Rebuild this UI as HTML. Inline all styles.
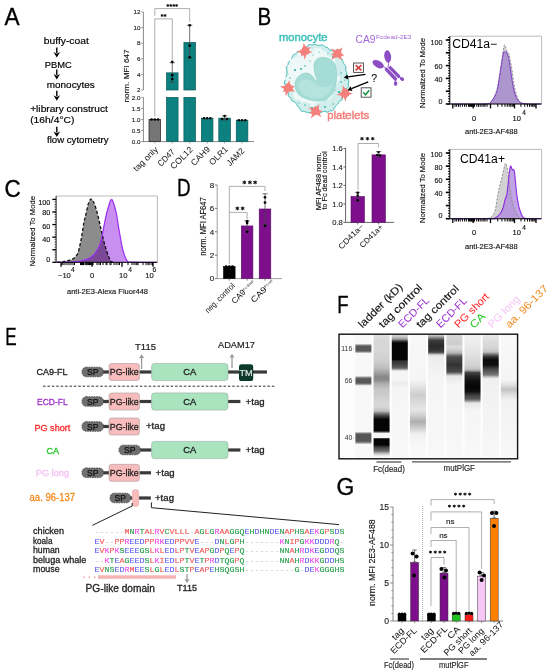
<!DOCTYPE html>
<html><head><meta charset="utf-8"><style>
html,body{margin:0;padding:0;background:#fff;width:550px;height:672px;overflow:hidden}
svg{display:block}
</style></head><body>
<svg width="550" height="672" viewBox="0 0 550 672" font-family='"Liberation Sans", Arial, sans-serif'>
<rect width="550" height="672" fill="#fff"/>
<text x="4.40" y="24.80" font-size="23.5" stroke="#000" stroke-width="0.35" textLength="15.1" lengthAdjust="spacingAndGlyphs">A</text>
<text x="257.50" y="24.80" font-size="23.5" stroke="#000" stroke-width="0.35" textLength="13.7" lengthAdjust="spacingAndGlyphs">B</text>
<text x="4.40" y="196.70" font-size="23.5" stroke="#000" stroke-width="0.35" textLength="16.2" lengthAdjust="spacingAndGlyphs">C</text>
<text x="177.10" y="195.90" font-size="23.5" stroke="#000" stroke-width="0.35" textLength="13.6" lengthAdjust="spacingAndGlyphs">D</text>
<text x="5.30" y="345.20" font-size="23.5" stroke="#000" stroke-width="0.35" textLength="11.4" lengthAdjust="spacingAndGlyphs">E</text>
<text x="337.30" y="312.80" font-size="23.5" stroke="#000" stroke-width="0.35" textLength="11.3" lengthAdjust="spacingAndGlyphs">F</text>
<text x="336.40" y="494.90" font-size="23.5" stroke="#000" stroke-width="0.35" textLength="17.8" lengthAdjust="spacingAndGlyphs">G</text>
<text x="43.80" y="44.40" font-size="9.8" stroke="#000" stroke-width="0.18" textLength="45" lengthAdjust="spacingAndGlyphs">buffy-coat</text>
<text x="44.80" y="67.60" font-size="9.8" stroke="#000" stroke-width="0.18" textLength="27" lengthAdjust="spacingAndGlyphs">PBMC</text>
<text x="46.80" y="88.00" font-size="9.8" stroke="#000" stroke-width="0.18" textLength="48" lengthAdjust="spacingAndGlyphs">monocytes</text>
<text x="30.20" y="111.60" font-size="9.8" stroke="#000" stroke-width="0.18" textLength="77.6" lengthAdjust="spacingAndGlyphs">+library construct</text>
<text x="30.20" y="122.80" font-size="9.8" stroke="#000" stroke-width="0.18" textLength="44.2" lengthAdjust="spacingAndGlyphs">(16h/4°C)</text>
<text x="47.00" y="143.00" font-size="9.8" stroke="#000" stroke-width="0.18" textLength="61.5" lengthAdjust="spacingAndGlyphs">flow cytometry</text>
<line x1="56.80" y1="47.40" x2="56.80" y2="53.00" stroke="#000" stroke-width="1.4"/>
<path d="M53.50,52.00 L56.80,53.80 L60.10,52.00 L56.80,57.50 Z" fill="#000"/>
<line x1="56.80" y1="69.50" x2="56.80" y2="75.00" stroke="#000" stroke-width="1.4"/>
<path d="M53.50,74.00 L56.80,75.80 L60.10,74.00 L56.80,79.50 Z" fill="#000"/>
<line x1="56.80" y1="90.80" x2="56.80" y2="96.30" stroke="#000" stroke-width="1.4"/>
<path d="M53.50,95.30 L56.80,97.10 L60.10,95.30 L56.80,100.80 Z" fill="#000"/>
<line x1="56.80" y1="126.80" x2="56.80" y2="132.50" stroke="#000" stroke-width="1.4"/>
<path d="M53.50,131.50 L56.80,133.30 L60.10,131.50 L56.80,137.00 Z" fill="#000"/>
<line x1="143.40" y1="12.00" x2="143.40" y2="90.00" stroke="#8a8a8a" stroke-width="1"/>
<line x1="143.40" y1="97.40" x2="143.40" y2="142.10" stroke="#8a8a8a" stroke-width="1"/>
<line x1="142.90" y1="141.60" x2="254.00" y2="141.60" stroke="#8a8a8a" stroke-width="1"/>
<line x1="141.20" y1="90.00" x2="143.40" y2="90.00" stroke="#8a8a8a" stroke-width="0.9"/>
<text x="140.40" y="92.10" font-size="6.2" stroke="#222" stroke-width="0.14" fill="#222" text-anchor="end">2</text>
<line x1="141.20" y1="74.40" x2="143.40" y2="74.40" stroke="#8a8a8a" stroke-width="0.9"/>
<text x="140.40" y="76.50" font-size="6.2" stroke="#222" stroke-width="0.14" fill="#222" text-anchor="end">4</text>
<line x1="141.20" y1="58.80" x2="143.40" y2="58.80" stroke="#8a8a8a" stroke-width="0.9"/>
<text x="140.40" y="60.90" font-size="6.2" stroke="#222" stroke-width="0.14" fill="#222" text-anchor="end">6</text>
<line x1="141.20" y1="43.20" x2="143.40" y2="43.20" stroke="#8a8a8a" stroke-width="0.9"/>
<text x="140.40" y="45.30" font-size="6.2" stroke="#222" stroke-width="0.14" fill="#222" text-anchor="end">8</text>
<line x1="141.20" y1="27.60" x2="143.40" y2="27.60" stroke="#8a8a8a" stroke-width="0.9"/>
<text x="140.40" y="29.70" font-size="6.2" stroke="#222" stroke-width="0.14" fill="#222" text-anchor="end">10</text>
<line x1="141.20" y1="12.00" x2="143.40" y2="12.00" stroke="#8a8a8a" stroke-width="0.9"/>
<text x="140.40" y="14.10" font-size="6.2" stroke="#222" stroke-width="0.14" fill="#222" text-anchor="end">12</text>
<line x1="141.20" y1="141.60" x2="143.40" y2="141.60" stroke="#8a8a8a" stroke-width="0.9"/>
<text x="140.40" y="143.70" font-size="6.2" stroke="#222" stroke-width="0.14" fill="#222" text-anchor="end">0.0</text>
<line x1="141.20" y1="130.55" x2="143.40" y2="130.55" stroke="#8a8a8a" stroke-width="0.9"/>
<text x="140.40" y="132.65" font-size="6.2" stroke="#222" stroke-width="0.14" fill="#222" text-anchor="end">0.5</text>
<line x1="141.20" y1="119.50" x2="143.40" y2="119.50" stroke="#8a8a8a" stroke-width="0.9"/>
<text x="140.40" y="121.60" font-size="6.2" stroke="#222" stroke-width="0.14" fill="#222" text-anchor="end">1.0</text>
<line x1="141.20" y1="108.45" x2="143.40" y2="108.45" stroke="#8a8a8a" stroke-width="0.9"/>
<text x="140.40" y="110.55" font-size="6.2" stroke="#222" stroke-width="0.14" fill="#222" text-anchor="end">1.5</text>
<line x1="141.20" y1="97.40" x2="143.40" y2="97.40" stroke="#8a8a8a" stroke-width="0.9"/>
<text x="140.40" y="99.50" font-size="6.2" stroke="#222" stroke-width="0.14" fill="#222" text-anchor="end">2.0</text>
<text x="129.00" y="75.95" font-size="8.0" stroke="#111" stroke-width="0.14" fill="#111" text-anchor="middle" textLength="53" lengthAdjust="spacingAndGlyphs" transform="rotate(-90 129.00 75.95)">norm. MFI 647</text>
<rect x="149.00" y="119.50" width="11.60" height="22.10" fill="#757575" stroke="#222" stroke-width="0.7"/>
<line x1="154.80" y1="141.60" x2="154.80" y2="143.40" stroke="#8a8a8a" stroke-width="0.9"/>
<rect x="166.45" y="72.84" width="11.60" height="17.16" fill="#0d8080" stroke="#0a5a5a" stroke-width="0.7"/>
<rect x="166.45" y="97.40" width="11.60" height="44.20" fill="#0d8080" stroke="#0a5a5a" stroke-width="0.7"/>
<line x1="172.25" y1="141.60" x2="172.25" y2="143.40" stroke="#8a8a8a" stroke-width="0.9"/>
<rect x="183.90" y="42.42" width="11.60" height="47.58" fill="#0d8080" stroke="#0a5a5a" stroke-width="0.7"/>
<rect x="183.90" y="97.40" width="11.60" height="44.20" fill="#0d8080" stroke="#0a5a5a" stroke-width="0.7"/>
<line x1="189.70" y1="141.60" x2="189.70" y2="143.40" stroke="#8a8a8a" stroke-width="0.9"/>
<rect x="201.35" y="118.17" width="11.60" height="23.43" fill="#0d8080" stroke="#0a5a5a" stroke-width="0.7"/>
<line x1="207.15" y1="141.60" x2="207.15" y2="143.40" stroke="#8a8a8a" stroke-width="0.9"/>
<rect x="218.80" y="118.17" width="11.60" height="23.43" fill="#0d8080" stroke="#0a5a5a" stroke-width="0.7"/>
<line x1="224.60" y1="141.60" x2="224.60" y2="143.40" stroke="#8a8a8a" stroke-width="0.9"/>
<rect x="236.25" y="120.16" width="11.60" height="21.44" fill="#0d8080" stroke="#0a5a5a" stroke-width="0.7"/>
<line x1="242.05" y1="141.60" x2="242.05" y2="143.40" stroke="#8a8a8a" stroke-width="0.9"/>
<line x1="172.25" y1="62.70" x2="172.25" y2="82.20" stroke="#444" stroke-width="0.75"/>
<line x1="169.65" y1="62.70" x2="174.85" y2="62.70" stroke="#444" stroke-width="0.75"/>
<line x1="169.65" y1="82.20" x2="174.85" y2="82.20" stroke="#444" stroke-width="0.75"/>
<circle cx="172.25" cy="61.92" r="1.35" fill="#000"/>
<circle cx="172.25" cy="75.18" r="1.35" fill="#000"/>
<circle cx="172.25" cy="79.08" r="1.35" fill="#000"/>
<line x1="189.70" y1="25.26" x2="189.70" y2="58.02" stroke="#444" stroke-width="0.75"/>
<line x1="187.10" y1="25.26" x2="192.30" y2="25.26" stroke="#444" stroke-width="0.75"/>
<line x1="187.10" y1="58.02" x2="192.30" y2="58.02" stroke="#444" stroke-width="0.75"/>
<circle cx="189.70" cy="25.26" r="1.35" fill="#000"/>
<circle cx="189.70" cy="45.54" r="1.35" fill="#000"/>
<circle cx="189.70" cy="57.24" r="1.35" fill="#000"/>
<circle cx="151.60" cy="119.50" r="1.35" fill="#000"/>
<circle cx="154.80" cy="119.50" r="1.35" fill="#000"/>
<circle cx="158.00" cy="119.50" r="1.35" fill="#000"/>
<circle cx="203.95" cy="118.17" r="1.2" fill="#000"/>
<circle cx="207.15" cy="118.17" r="1.2" fill="#000"/>
<circle cx="210.35" cy="118.17" r="1.2" fill="#000"/>
<line x1="224.60" y1="115.74" x2="224.60" y2="119.94" stroke="#444" stroke-width="0.75"/>
<line x1="222.00" y1="115.74" x2="227.20" y2="115.74" stroke="#444" stroke-width="0.75"/>
<line x1="222.00" y1="119.94" x2="227.20" y2="119.94" stroke="#444" stroke-width="0.75"/>
<circle cx="222.10" cy="119.06" r="1.2" fill="#000"/>
<circle cx="224.60" cy="115.96" r="1.2" fill="#000"/>
<circle cx="227.10" cy="119.06" r="1.2" fill="#000"/>
<circle cx="238.85" cy="120.16" r="1.2" fill="#000"/>
<circle cx="242.05" cy="120.16" r="1.2" fill="#000"/>
<circle cx="245.25" cy="120.16" r="1.2" fill="#000"/>
<path d="M154.80,116.50 V18.9 H172.25 V59.5" fill="none" stroke="#999" stroke-width="0.8"/>
<path d="M154.80,15.9 V8.6 H189.70 V21.8" fill="none" stroke="#999" stroke-width="0.8"/>
<text x="163.50" y="18.35" font-size="5.00" text-anchor="middle" font-family="DejaVu Sans" font-weight="bold" textLength="5.60" lengthAdjust="spacing" stroke="#000" stroke-width="0.3">**</text>
<text x="172.25" y="8.25" font-size="5.00" text-anchor="middle" font-family="DejaVu Sans" font-weight="bold" textLength="11.35" lengthAdjust="spacing" stroke="#000" stroke-width="0.3">****</text>
<text x="136.73" y="172.00" font-size="8.60" fill="#111" textLength="30.97" lengthAdjust="spacingAndGlyphs" transform="rotate(-45 136.73 172.00)">tag only</text>
<text x="161.03" y="166.95" font-size="8.60" fill="#111" textLength="20.29" lengthAdjust="spacingAndGlyphs" transform="rotate(-45 161.03 166.95)">CD47</text>
<text x="173.83" y="169.75" font-size="8.60" fill="#111" textLength="27.81" lengthAdjust="spacingAndGlyphs" transform="rotate(-45 173.83 169.75)">COL12</text>
<text x="194.33" y="166.30" font-size="8.60" fill="#111" textLength="23.22" lengthAdjust="spacingAndGlyphs" transform="rotate(-45 194.33 166.30)">CAH9</text>
<text x="212.58" y="165.80" font-size="8.60" fill="#111" textLength="22.46" lengthAdjust="spacingAndGlyphs" transform="rotate(-45 212.58 165.80)">OLR1</text>
<text x="229.98" y="166.55" font-size="8.60" fill="#111" textLength="21.13" lengthAdjust="spacingAndGlyphs" transform="rotate(-45 229.98 166.55)">JAM2</text>
<path d="M348.14,79.30 L348.67,80.22 L348.85,81.16 L348.73,82.08 L348.46,82.98 L348.20,83.88 L348.25,84.82 L348.44,85.79 L348.36,86.73 L347.89,87.57 L347.07,88.28 L346.15,88.93 L345.70,89.70 L345.41,90.53 L345.24,91.40 L345.04,92.26 L344.67,93.06 L344.34,93.87 L343.97,94.65 L343.50,95.38 L343.04,96.11 L342.67,96.89 L342.41,97.75 L342.36,98.79 L342.05,99.66 L341.42,100.27 L340.54,100.65 L339.61,100.94 L339.03,101.55 L338.66,102.37 L338.32,103.24 L337.88,104.01 L337.25,104.58 L336.55,105.05 L335.98,105.69 L335.42,106.35 L334.92,107.10 L334.44,107.94 L333.94,108.76 L333.51,109.74 L332.91,110.47 L332.10,110.82 L331.17,110.87 L330.21,110.83 L329.38,111.02 L328.68,111.56 L327.95,112.00 L327.10,112.14 L326.16,111.91 L325.18,111.43 L324.33,111.33 L323.53,111.43 L322.78,111.71 L322.04,112.10 L321.28,112.42 L320.52,112.76 L319.74,113.07 L318.93,113.12 L318.11,113.03 L317.30,112.98 L316.50,113.04 L315.68,113.60 L314.84,113.97 L314.01,113.93 L313.22,113.48 L312.48,112.78 L311.72,112.38 L310.91,112.39 L310.06,112.55 L309.19,112.69 L308.35,112.64 L307.57,112.36 L306.73,112.26 L305.93,112.02 L305.14,111.77 L304.31,111.57 L303.46,111.41 L302.53,111.43 L301.63,111.32 L300.92,110.78 L300.41,109.86 L300.03,108.77 L299.62,107.81 L298.95,107.31 L298.23,106.87 L297.59,106.32 L297.12,105.55 L296.83,104.56 L296.43,103.75 L295.92,103.08 L295.32,102.53 L294.59,102.10 L293.83,101.69 L293.04,101.28 L292.18,100.90 L291.58,100.27 L291.19,99.47 L290.89,98.61 L290.53,97.79 L289.79,97.25 L289.00,96.71 L288.43,96.01 L288.20,95.12 L288.25,94.08 L288.27,93.09 L287.94,92.27 L287.46,91.53 L286.89,90.80 L286.37,90.04 L286.05,89.19 L285.61,88.38 L285.38,87.49 L285.30,86.57 L285.25,85.65 L285.14,84.75 L284.82,83.87 L284.41,83.00 L284.35,82.07 L284.73,81.13 L285.40,80.19 L286.14,79.30 L286.29,78.43 L286.26,77.56 L286.19,76.68 L286.25,75.81 L286.54,74.97 L286.78,74.14 L286.91,73.29 L286.99,72.42 L286.96,71.52 L286.82,70.58 L286.67,69.61 L286.32,68.54 L286.31,67.58 L286.68,66.74 L287.27,66.02 L287.89,65.33 L288.14,64.47 L288.19,63.48 L288.36,62.54 L288.79,61.75 L289.51,61.16 L290.34,60.67 L290.88,59.99 L291.32,59.24 L291.66,58.39 L291.97,57.51 L292.37,56.70 L292.73,55.82 L293.24,55.09 L293.96,54.58 L294.77,54.19 L295.56,53.79 L296.21,53.24 L296.65,52.42 L297.24,51.77 L298.06,51.46 L299.06,51.47 L300.13,51.65 L300.94,51.44 L301.59,50.97 L302.16,50.34 L302.75,49.69 L303.41,49.19 L304.10,48.74 L304.76,48.20 L305.47,47.77 L306.18,47.33 L306.87,46.79 L307.56,46.19 L308.18,45.25 L308.90,44.60 L309.74,44.40 L310.64,44.61 L311.55,45.01 L312.40,45.13 L313.20,44.84 L314.00,44.52 L314.83,44.38 L315.67,44.56 L316.50,45.04 L317.31,45.18 L318.12,45.32 L318.94,45.34 L319.76,45.25 L320.60,45.16 L321.46,44.97 L322.31,44.91 L323.10,45.24 L323.82,45.86 L324.50,46.56 L325.19,47.12 L326.03,47.14 L326.86,47.21 L327.62,47.54 L328.24,48.22 L328.75,49.13 L329.33,49.79 L330.05,50.14 L330.86,50.30 L331.73,50.36 L332.60,50.48 L333.43,50.70 L334.33,50.85 L335.09,51.23 L335.77,51.75 L336.45,52.28 L337.17,52.75 L338.12,52.97 L339.03,53.26 L339.68,53.87 L340.02,54.82 L340.13,55.97 L340.27,57.03 L340.75,57.76 L341.34,58.40 L341.92,59.04 L342.37,59.80 L342.60,60.71 L342.94,61.53 L343.25,62.36 L343.57,63.18 L343.98,63.95 L344.45,64.68 L345.05,65.36 L345.71,66.03 L346.02,66.87 L345.99,67.85 L345.75,68.88 L345.54,69.87 L345.86,70.67 L346.31,71.45 L346.67,72.27 L346.78,73.14 L346.61,74.07 L346.48,74.97 L346.62,75.83 L346.90,76.68 L347.32,77.53 L347.79,78.40 Z" fill="#d2eeec" stroke="#3cbab5" stroke-width="1.0"/>
<path d="M338.30,76.30 L339.19,77.07 L339.78,77.87 L339.91,78.67 L339.62,79.43 L339.08,80.14 L338.53,80.83 L338.11,81.51 L337.85,82.22 L337.64,82.93 L337.35,83.61 L336.90,84.24 L336.33,84.80 L335.78,85.35 L335.40,85.95 L335.29,86.67 L335.38,87.49 L335.49,88.34 L335.40,89.11 L335.00,89.71 L334.29,90.12 L333.44,90.39 L332.68,90.69 L332.20,91.16 L332.03,91.88 L332.11,92.82 L332.24,93.85 L332.26,94.83 L332.08,95.66 L331.73,96.34 L331.30,96.94 L330.88,97.57 L330.50,98.25 L330.10,98.93 L329.59,99.47 L328.87,99.73 L327.95,99.65 L326.93,99.35 L325.94,99.03 L325.13,98.93 L324.55,99.21 L324.14,99.85 L323.80,100.66 L323.41,101.41 L322.88,101.89 L322.21,102.05 L321.48,102.00 L320.77,101.93 L320.11,102.02 L319.52,102.33 L318.96,102.77 L318.38,103.19 L317.76,103.46 L317.10,103.56 L316.44,103.62 L315.80,103.82 L315.18,104.31 L314.56,105.07 L313.91,105.92 L313.22,106.57 L312.50,106.77 L311.78,106.42 L311.10,105.62 L310.47,104.64 L309.87,103.78 L309.27,103.22 L308.65,102.97 L308.01,102.91 L307.36,102.84 L306.74,102.64 L306.15,102.32 L305.57,102.00 L304.95,101.83 L304.25,101.88 L303.48,102.10 L302.70,102.29 L301.98,102.25 L301.40,101.86 L300.95,101.19 L300.58,100.41 L300.15,99.79 L299.56,99.48 L298.76,99.52 L297.81,99.76 L296.84,99.97 L295.99,99.93 L295.35,99.55 L294.93,98.89 L294.62,98.10 L294.34,97.32 L294.00,96.61 L293.64,95.95 L293.34,95.24 L293.20,94.40 L293.22,93.44 L293.34,92.45 L293.36,91.57 L293.13,90.92 L292.55,90.53 L291.68,90.31 L290.71,90.12 L289.88,89.79 L289.35,89.25 L289.16,88.52 L289.18,87.70 L289.19,86.90 L289.04,86.19 L288.66,85.57 L288.13,85.00 L287.61,84.40 L287.24,83.73 L287.05,83.01 L286.97,82.26 L286.84,81.52 L286.56,80.81 L286.15,80.11 L285.73,79.39 L285.55,78.63 L285.76,77.84 L286.39,77.05 L287.30,76.30 L288.21,75.60 L288.85,74.94 L289.07,74.27 L288.90,73.58 L288.52,72.83 L288.16,72.07 L287.97,71.31 L287.96,70.57 L288.05,69.86 L288.09,69.12 L288.00,68.33 L287.82,67.50 L287.70,66.66 L287.79,65.89 L288.17,65.24 L288.79,64.71 L289.45,64.23 L289.96,63.69 L290.18,62.99 L290.12,62.12 L289.96,61.13 L289.91,60.19 L290.16,59.44 L290.77,58.97 L291.65,58.73 L292.61,58.61 L293.48,58.46 L294.18,58.19 L294.73,57.79 L295.23,57.34 L295.77,56.95 L296.38,56.64 L296.98,56.35 L297.49,55.95 L297.82,55.30 L297.97,54.35 L298.04,53.20 L298.17,52.06 L298.48,51.19 L299.05,50.71 L299.81,50.63 L300.65,50.77 L301.45,50.87 L302.13,50.73 L302.70,50.32 L303.21,49.72 L303.74,49.14 L304.35,48.76 L305.04,48.63 L305.76,48.68 L306.47,48.74 L307.15,48.68 L307.81,48.50 L308.46,48.31 L309.14,48.30 L309.85,48.62 L310.56,49.24 L311.24,50.00 L311.89,50.59 L312.50,50.77 L313.12,50.44 L313.77,49.70 L314.47,48.82 L315.20,48.08 L315.93,47.69 L316.63,47.66 L317.30,47.85 L317.97,48.07 L318.65,48.19 L319.35,48.23 L320.05,48.30 L320.71,48.57 L321.27,49.10 L321.76,49.82 L322.21,50.55 L322.72,51.09 L323.35,51.32 L324.10,51.29 L324.91,51.20 L325.65,51.29 L326.21,51.74 L326.54,52.56 L326.70,53.61 L326.82,54.66 L327.04,55.50 L327.45,56.03 L328.05,56.31 L328.75,56.48 L329.44,56.69 L330.07,57.01 L330.64,57.40 L331.25,57.77 L331.98,58.03 L332.86,58.20 L333.80,58.36 L334.62,58.65 L335.16,59.20 L335.32,60.03 L335.16,61.05 L334.88,62.12 L334.70,63.07 L334.79,63.83 L335.19,64.42 L335.77,64.93 L336.31,65.47 L336.65,66.12 L336.73,66.88 L336.63,67.69 L336.51,68.49 L336.50,69.24 L336.64,69.94 L336.85,70.62 L336.99,71.32 L336.94,72.05 L336.71,72.80 L336.46,73.54 L336.39,74.24 L336.69,74.91 L337.38,75.58 Z" fill="#edf8f7"/>
<circle cx="305.00" cy="66.00" r="0.8" fill="#27a7a3"/>
<circle cx="301.00" cy="69.00" r="0.9" fill="#27a7a3"/>
<circle cx="295.00" cy="70.00" r="1.0" fill="#27a7a3"/>
<circle cx="310.00" cy="61.00" r="0.6" fill="#27a7a3"/>
<circle cx="313.00" cy="55.00" r="0.6" fill="#27a7a3"/>
<circle cx="319.00" cy="52.00" r="0.6" fill="#27a7a3"/>
<circle cx="328.00" cy="53.00" r="0.6" fill="#27a7a3"/>
<circle cx="333.00" cy="57.00" r="0.9" fill="#27a7a3"/>
<circle cx="341.00" cy="73.00" r="0.7" fill="#27a7a3"/>
<circle cx="341.00" cy="82.00" r="0.8" fill="#27a7a3"/>
<circle cx="335.00" cy="90.00" r="0.6" fill="#27a7a3"/>
<circle cx="339.00" cy="92.00" r="1.1" fill="#27a7a3"/>
<circle cx="333.00" cy="104.00" r="0.7" fill="#27a7a3"/>
<circle cx="325.00" cy="107.00" r="0.9" fill="#27a7a3"/>
<circle cx="312.00" cy="108.00" r="1.1" fill="#27a7a3"/>
<circle cx="305.00" cy="105.00" r="0.7" fill="#27a7a3"/>
<circle cx="299.00" cy="103.00" r="0.6" fill="#27a7a3"/>
<circle cx="291.00" cy="86.00" r="0.8" fill="#27a7a3"/>
<circle cx="290.00" cy="78.00" r="0.7" fill="#27a7a3"/>
<circle cx="345.00" cy="80.00" r="0.6" fill="#27a7a3"/>
<circle cx="342.00" cy="98.00" r="0.6" fill="#27a7a3"/>
<circle cx="303.00" cy="76.00" r="0.5" fill="#27a7a3"/>
<circle cx="318.00" cy="106.00" r="0.6" fill="#27a7a3"/>
<path d="M317.5,80.5 C315.8,77 313.8,71 314,66 C314.2,61 317,57.6 322,57.4 C328,57.2 333.5,60 335.6,66 C337.2,71 337,80 335.5,86 C334,92 330,98 324,100.4 C318,102 309,100.5 302,97 C297,94 294.6,89 295,84 C295.4,78.5 299.5,74.5 304.5,73.2 C309,72.4 312.5,75.5 314.2,78.5 C315.2,80.2 316.6,81.2 317.5,80.5 Z" fill="#a6dcd6" stroke="#88cec7" stroke-width="0.6"/>
<path d="M298,86 C299,81 304,78.5 309,80 C313,81.5 315,85 320,86.5 C325,88 330,87 333,84 C331,93 325,98 318,98.5 C310,99 301,95 298,86 Z" fill="#b5e3de"/>
<path d="M309.40,51.81 L309.39,52.31 L309.29,52.81 L309.09,53.27 L308.81,53.68 L308.44,54.03 L308.02,54.30 L307.56,54.49 L307.09,54.62 L306.63,54.68 L306.17,54.70 L305.74,54.70 L305.33,54.69 L304.94,54.68 L304.54,54.69 L304.13,54.70 L303.70,54.70 L303.26,54.69 L302.79,54.63 L302.32,54.52 L301.86,54.34 L301.43,54.08 L301.05,53.75 L300.75,53.35 L300.54,52.89 L300.42,52.40 L300.40,51.90 L300.46,51.41 L300.59,50.94 L300.76,50.50 L300.97,50.10 L301.19,49.73 L301.40,49.38 L301.61,49.04 L301.80,48.69 L302.00,48.33 L302.21,47.96 L302.44,47.58 L302.72,47.21 L303.05,46.86 L303.44,46.55 L303.88,46.30 L304.35,46.15 L304.85,46.08 L305.36,46.13 L305.84,46.27 L306.28,46.50 L306.68,46.80 L307.02,47.14 L307.31,47.52 L307.55,47.90 L307.77,48.27 L307.96,48.63 L308.16,48.98 L308.36,49.32 L308.57,49.67 L308.79,50.03 L309.00,50.43 L309.19,50.86 L309.33,51.32 Z" fill="#f4807c"/>
<path d="M307.81,53.11 L312.70,52.48 L308.44,50.00 Z" fill="#f4807c"/>
<path d="M303.23,54.15 L304.69,59.65 L306.41,54.23 Z" fill="#f4807c"/>
<path d="M301.67,52.61 L300.82,56.45 L304.23,54.49 Z" fill="#f4807c"/>
<path d="M301.44,49.73 L296.39,51.96 L301.83,52.88 Z" fill="#f4807c"/>
<path d="M305.98,47.41 L303.67,42.80 L302.83,47.88 Z" fill="#f4807c"/>
<path d="M308.53,50.47 L310.81,47.13 L306.82,47.79 Z" fill="#f4807c"/>
<path d="M339.96,57.48 L339.49,57.56 L339.03,57.60 L338.60,57.60 L338.18,57.59 L337.78,57.58 L337.38,57.59 L336.98,57.59 L336.56,57.60 L336.12,57.59 L335.66,57.56 L335.19,57.47 L334.72,57.31 L334.28,57.09 L333.88,56.78 L333.55,56.40 L333.30,55.96 L333.15,55.48 L333.09,54.98 L333.13,54.49 L333.23,54.01 L333.40,53.56 L333.59,53.14 L333.81,52.76 L334.03,52.41 L334.23,52.06 L334.43,51.72 L334.63,51.37 L334.83,51.00 L335.05,50.62 L335.32,50.24 L335.63,49.88 L335.99,49.55 L336.41,49.28 L336.88,49.09 L337.37,48.99 L337.88,49.00 L338.37,49.11 L338.83,49.31 L339.24,49.58 L339.61,49.91 L339.91,50.28 L340.17,50.66 L340.39,51.04 L340.59,51.40 L340.79,51.75 L340.99,52.10 L341.20,52.44 L341.41,52.80 L341.63,53.18 L341.82,53.60 L341.98,54.05 L342.08,54.53 L342.11,55.03 L342.04,55.53 L341.88,56.01 L341.62,56.44 L341.28,56.81 L340.88,57.11 L340.43,57.33 Z" fill="#f4807c"/>
<path d="M338.04,57.43 L341.90,60.49 L340.72,55.71 Z" fill="#f4807c"/>
<path d="M334.11,54.87 L331.18,59.75 L336.27,57.20 Z" fill="#f4807c"/>
<path d="M334.12,52.67 L330.78,54.74 L334.56,55.82 Z" fill="#f4807c"/>
<path d="M336.03,50.50 L330.91,48.43 L334.04,52.98 Z" fill="#f4807c"/>
<path d="M340.86,52.14 L342.55,47.27 L338.32,50.22 Z" fill="#f4807c"/>
<path d="M340.44,56.10 L344.43,55.41 L341.17,53.01 Z" fill="#f4807c"/>
<path d="M292.43,90.31 L292.15,90.73 L291.79,91.09 L291.38,91.37 L290.93,91.57 L290.46,91.70 L289.99,91.77 L289.53,91.80 L289.10,91.80 L288.69,91.79 L288.29,91.78 L287.89,91.79 L287.49,91.80 L287.06,91.80 L286.62,91.79 L286.16,91.74 L285.68,91.64 L285.22,91.47 L284.79,91.22 L284.40,90.90 L284.09,90.51 L283.86,90.06 L283.73,89.57 L283.69,89.07 L283.74,88.58 L283.86,88.10 L284.04,87.66 L284.24,87.26 L284.46,86.88 L284.67,86.53 L284.88,86.19 L285.07,85.84 L285.27,85.48 L285.48,85.11 L285.71,84.74 L285.98,84.36 L286.31,84.00 L286.68,83.69 L287.12,83.43 L287.59,83.26 L288.09,83.19 L288.59,83.21 L289.08,83.34 L289.53,83.56 L289.93,83.85 L290.28,84.19 L290.57,84.56 L290.82,84.94 L291.04,85.32 L291.24,85.68 L291.43,86.03 L291.63,86.37 L291.84,86.72 L292.06,87.08 L292.27,87.47 L292.46,87.90 L292.61,88.36 L292.69,88.84 L292.70,89.35 L292.61,89.84 Z" fill="#f4807c"/>
<path d="M290.33,90.97 L295.18,91.81 L291.85,88.18 Z" fill="#f4807c"/>
<path d="M285.65,90.62 L285.42,96.30 L288.66,91.63 Z" fill="#f4807c"/>
<path d="M284.61,88.68 L282.66,92.09 L286.50,91.23 Z" fill="#f4807c"/>
<path d="M285.24,85.86 L279.76,86.50 L284.68,88.99 Z" fill="#f4807c"/>
<path d="M290.26,84.98 L289.42,79.90 L287.12,84.51 Z" fill="#f4807c"/>
<path d="M291.79,88.66 L294.96,86.14 L290.95,85.60 Z" fill="#f4807c"/>
<path d="M349.33,93.54 L349.40,94.03 L349.39,94.54 L349.28,95.03 L349.08,95.49 L348.79,95.90 L348.42,96.24 L348.00,96.51 L347.54,96.70 L347.07,96.82 L346.60,96.88 L346.15,96.90 L345.73,96.90 L345.32,96.89 L344.92,96.88 L344.52,96.89 L344.11,96.90 L343.68,96.90 L343.24,96.88 L342.77,96.83 L342.30,96.71 L341.84,96.53 L341.41,96.27 L341.04,95.93 L340.74,95.53 L340.53,95.07 L340.42,94.58 L340.40,94.08 L340.46,93.59 L340.59,93.12 L340.77,92.69 L340.98,92.29 L341.20,91.92 L341.41,91.57 L341.61,91.22 L341.81,90.88 L342.01,90.52 L342.22,90.15 L342.45,89.77 L342.74,89.39 L343.07,89.04 L343.46,88.73 L343.90,88.49 L344.38,88.34 L344.88,88.28 L345.38,88.33 L345.86,88.48 L346.30,88.71 L346.70,89.01 L347.04,89.36 L347.32,89.73 L347.56,90.11 L347.78,90.49 L347.97,90.85 L348.17,91.19 L348.37,91.54 L348.58,91.88 L348.80,92.25 L349.01,92.65 L349.19,93.08 Z" fill="#f4807c"/>
<path d="M348.02,95.01 L352.82,93.89 L348.33,91.85 Z" fill="#f4807c"/>
<path d="M343.57,96.50 L345.57,101.83 L346.74,96.26 Z" fill="#f4807c"/>
<path d="M341.86,95.12 L341.39,99.03 L344.59,96.74 Z" fill="#f4807c"/>
<path d="M341.34,92.28 L336.54,95.01 L342.04,95.38 Z" fill="#f4807c"/>
<path d="M345.62,89.52 L342.87,85.16 L342.54,90.31 Z" fill="#f4807c"/>
<path d="M348.47,92.31 L350.41,88.76 L346.50,89.81 Z" fill="#f4807c"/>
<path d="M319.04,114.63 L318.59,114.85 L318.12,114.99 L317.65,115.07 L317.19,115.10 L316.76,115.10 L316.34,115.09 L315.94,115.08 L315.55,115.09 L315.14,115.09 L314.72,115.10 L314.28,115.09 L313.82,115.05 L313.35,114.96 L312.88,114.80 L312.44,114.56 L312.05,114.25 L311.73,113.86 L311.49,113.42 L311.34,112.94 L311.29,112.44 L311.33,111.94 L311.44,111.46 L311.61,111.02 L311.81,110.61 L312.03,110.23 L312.24,109.88 L312.45,109.53 L312.65,109.19 L312.84,108.83 L313.05,108.47 L313.28,108.09 L313.54,107.71 L313.86,107.35 L314.23,107.02 L314.65,106.76 L315.12,106.58 L315.62,106.49 L316.12,106.51 L316.61,106.62 L317.07,106.83 L317.48,107.11 L317.84,107.45 L318.14,107.81 L318.39,108.19 L318.61,108.57 L318.81,108.93 L319.01,109.28 L319.21,109.63 L319.41,109.97 L319.63,110.33 L319.84,110.72 L320.04,111.14 L320.19,111.59 L320.29,112.08 L320.30,112.58 L320.23,113.07 L320.06,113.55 L319.79,113.98 L319.45,114.34 Z" fill="#f4807c"/>
<path d="M316.95,114.77 L321.34,117.01 L319.23,112.55 Z" fill="#f4807c"/>
<path d="M312.59,113.04 L310.69,118.41 L315.17,114.90 Z" fill="#f4807c"/>
<path d="M312.17,110.89 L309.30,113.57 L313.22,113.89 Z" fill="#f4807c"/>
<path d="M313.60,108.38 L308.18,107.37 L312.15,111.21 Z" fill="#f4807c"/>
<path d="M318.66,109.03 L319.36,103.92 L315.80,107.65 Z" fill="#f4807c"/>
<path d="M319.04,113.00 L322.81,111.53 L319.14,109.82 Z" fill="#f4807c"/>
<text x="279.00" y="40.80" font-size="10.8" stroke="#3fc1bc" stroke-width="0.45" fill="#3fc1bc" textLength="48.6" lengthAdjust="spacingAndGlyphs">monocyte</text>
<text x="327.20" y="119.20" font-size="10.8" stroke="#f4807c" stroke-width="0.45" fill="#f4807c" textLength="42" lengthAdjust="spacingAndGlyphs">platelets</text>
<text x="355.50" y="43.00" font-size="10.4" fill="#a266d6" textLength="20" lengthAdjust="spacingAndGlyphs">CA9</text>
<text x="376.00" y="38.60" font-size="5.6" fill="#a266d6" textLength="35.5" lengthAdjust="spacingAndGlyphs">Fcdead-2E3</text>
<ellipse cx="387.7" cy="56.5" rx="3.4" ry="6.2" fill="#8d4ec4" transform="rotate(-8 387.7 56.5)"/>
<ellipse cx="378.2" cy="64.2" rx="6.2" ry="3.4" fill="#8d4ec4" transform="rotate(28 378.2 64.2)"/>
<line x1="388.50" y1="62.00" x2="388.20" y2="68.00" stroke="#8d4ec4" stroke-width="0.9"/>
<line x1="383.60" y1="66.80" x2="388.00" y2="69.50" stroke="#8d4ec4" stroke-width="0.9"/>
<line x1="386.40" y1="69.40" x2="395.40" y2="79.00" stroke="#8d4ec4" stroke-width="3.4" stroke-linecap="round"/>
<line x1="390.40" y1="67.90" x2="398.70" y2="76.40" stroke="#8d4ec4" stroke-width="3.4" stroke-linecap="round"/>
<line x1="395.40" y1="79.00" x2="395.60" y2="82.00" stroke="#8d4ec4" stroke-width="0.8"/>
<line x1="398.80" y1="76.50" x2="400.80" y2="78.30" stroke="#8d4ec4" stroke-width="0.8"/>
<ellipse cx="395.6" cy="83.6" rx="1.7" ry="2.3" fill="#8d4ec4"/>
<ellipse cx="402" cy="79" rx="2.3" ry="1.7" fill="#8d4ec4" transform="rotate(30 402 79)"/>
<rect x="353.60" y="63.00" width="9.80" height="9.40" fill="#fff" stroke="#444" stroke-width="0.9"/>
<line x1="355.60" y1="65.20" x2="361.40" y2="70.40" stroke="#d23b3b" stroke-width="1.6"/>
<line x1="361.40" y1="65.20" x2="355.60" y2="70.40" stroke="#d23b3b" stroke-width="1.6"/>
<rect x="361.20" y="87.80" width="9.80" height="9.40" fill="#fff" stroke="#444" stroke-width="0.9"/>
<path d="M363.2,92.4 L365.6,94.8 L369.2,90.2" fill="none" stroke="#1f9a4a" stroke-width="1.6"/>
<text x="371.20" y="81.90" font-size="10.5" stroke="#222" stroke-width="0.14" fill="#222">?</text>
<line x1="365.50" y1="74.30" x2="347.95" y2="76.97" stroke="#000" stroke-width="1.3"/>
<path d="M343.80,77.60 L347.56,74.40 L348.34,79.54 Z" fill="#000"/>
<line x1="368.20" y1="81.90" x2="351.49" y2="88.71" stroke="#000" stroke-width="1.3"/>
<path d="M347.60,90.30 L350.51,86.31 L352.47,91.12 Z" fill="#000"/>
<path d="M484.00,104.00 C484.83,103.93 487.67,104.18 489.00,103.60 C490.33,103.02 491.00,101.93 492.00,100.50 C493.00,99.07 494.08,97.25 495.00,95.00 C495.92,92.75 496.75,90.33 497.50,87.00 C498.25,83.67 498.83,79.17 499.50,75.00 C500.17,70.83 500.92,65.83 501.50,62.00 C502.08,58.17 502.52,54.83 503.00,52.00 C503.48,49.17 503.98,45.83 504.40,45.00 C504.82,44.17 505.15,46.17 505.50,47.00 C505.85,47.83 506.08,49.00 506.50,50.00 C506.92,51.00 507.58,52.33 508.00,53.00 C508.42,53.67 508.63,52.83 509.00,54.00 C509.37,55.17 509.70,57.33 510.20,60.00 C510.70,62.67 511.37,66.00 512.00,70.00 C512.63,74.00 513.25,79.83 514.00,84.00 C514.75,88.17 515.58,92.08 516.50,95.00 C517.42,97.92 518.42,100.07 519.50,101.50 C520.58,102.93 521.58,103.18 523.00,103.60 C524.42,104.02 527.17,103.93 528.00,104.00 Z" fill="#d0d0d0"/>
<path d="M451.00,104.00 C456.83,103.98 479.50,104.07 486.00,103.90 C492.50,103.73 488.92,103.65 490.00,103.00 C491.08,102.35 491.67,101.17 492.50,100.00 C493.33,98.83 494.25,97.50 495.00,96.00 C495.75,94.50 496.50,92.58 497.00,91.00 C497.50,89.42 497.50,89.33 498.00,86.50 C498.50,83.67 499.33,78.25 500.00,74.00 C500.67,69.75 501.43,64.50 502.00,61.00 C502.57,57.50 503.03,54.58 503.40,53.00 C503.77,51.42 503.87,51.58 504.20,51.50 C504.53,51.42 505.05,52.45 505.40,52.50 C505.75,52.55 505.98,51.55 506.30,51.80 C506.62,52.05 506.93,53.05 507.30,54.00 C507.67,54.95 508.13,56.00 508.50,57.50 C508.87,59.00 509.08,60.42 509.50,63.00 C509.92,65.58 510.42,69.17 511.00,73.00 C511.58,76.83 512.17,82.00 513.00,86.00 C513.83,90.00 514.83,94.33 516.00,97.00 C517.17,99.67 518.67,100.90 520.00,102.00 C521.33,103.10 522.33,103.27 524.00,103.60 C525.67,103.93 527.17,103.93 530.00,104.00 C532.83,104.07 539.17,104.00 541.00,104.00 Z" fill="#ad95cd"/>
<path d="M484.00,104.00 C484.83,103.93 487.67,104.18 489.00,103.60 C490.33,103.02 491.00,101.93 492.00,100.50 C493.00,99.07 494.08,97.25 495.00,95.00 C495.92,92.75 496.75,90.33 497.50,87.00 C498.25,83.67 498.83,79.17 499.50,75.00 C500.17,70.83 500.92,65.83 501.50,62.00 C502.08,58.17 502.52,54.83 503.00,52.00 C503.48,49.17 503.98,45.83 504.40,45.00 C504.82,44.17 505.15,46.17 505.50,47.00 C505.85,47.83 506.08,49.00 506.50,50.00 C506.92,51.00 507.58,52.33 508.00,53.00 C508.42,53.67 508.63,52.83 509.00,54.00 C509.37,55.17 509.70,57.33 510.20,60.00 C510.70,62.67 511.37,66.00 512.00,70.00 C512.63,74.00 513.25,79.83 514.00,84.00 C514.75,88.17 515.58,92.08 516.50,95.00 C517.42,97.92 518.42,100.07 519.50,101.50 C520.58,102.93 521.58,103.18 523.00,103.60 C524.42,104.02 527.17,103.93 528.00,104.00" fill="none" stroke="#8a8a8a" stroke-width="0.9" stroke-dasharray="2.2,1.4"/>
<path d="M451.00,104.00 C456.83,103.98 479.50,104.07 486.00,103.90 C492.50,103.73 488.92,103.65 490.00,103.00 C491.08,102.35 491.67,101.17 492.50,100.00 C493.33,98.83 494.25,97.50 495.00,96.00 C495.75,94.50 496.50,92.58 497.00,91.00 C497.50,89.42 497.50,89.33 498.00,86.50 C498.50,83.67 499.33,78.25 500.00,74.00 C500.67,69.75 501.43,64.50 502.00,61.00 C502.57,57.50 503.03,54.58 503.40,53.00 C503.77,51.42 503.87,51.58 504.20,51.50 C504.53,51.42 505.05,52.45 505.40,52.50 C505.75,52.55 505.98,51.55 506.30,51.80 C506.62,52.05 506.93,53.05 507.30,54.00 C507.67,54.95 508.13,56.00 508.50,57.50 C508.87,59.00 509.08,60.42 509.50,63.00 C509.92,65.58 510.42,69.17 511.00,73.00 C511.58,76.83 512.17,82.00 513.00,86.00 C513.83,90.00 514.83,94.33 516.00,97.00 C517.17,99.67 518.67,100.90 520.00,102.00 C521.33,103.10 522.33,103.27 524.00,103.60 C525.67,103.93 527.17,103.93 530.00,104.00 C532.83,104.07 539.17,104.00 541.00,104.00" fill="none" stroke="#8040c8" stroke-width="1.0"/>
<line x1="449.80" y1="36.20" x2="541.60" y2="36.20" stroke="#aaa" stroke-width="0.8"/>
<line x1="541.60" y1="36.20" x2="541.60" y2="104.00" stroke="#aaa" stroke-width="0.8"/>
<line x1="449.80" y1="36.20" x2="449.80" y2="104.00" stroke="#000" stroke-width="1.0"/>
<line x1="445.80" y1="104.00" x2="449.80" y2="104.00" stroke="#000" stroke-width="1.6"/>
<line x1="445.80" y1="91.20" x2="449.80" y2="91.20" stroke="#000" stroke-width="1.6"/>
<line x1="445.80" y1="78.40" x2="449.80" y2="78.40" stroke="#000" stroke-width="1.6"/>
<line x1="445.80" y1="65.60" x2="449.80" y2="65.60" stroke="#000" stroke-width="1.6"/>
<line x1="445.80" y1="52.80" x2="449.80" y2="52.80" stroke="#000" stroke-width="1.6"/>
<line x1="445.80" y1="40.00" x2="449.80" y2="40.00" stroke="#000" stroke-width="1.6"/>
<line x1="448.00" y1="104.00" x2="449.80" y2="104.00" stroke="#000" stroke-width="0.9"/>
<line x1="448.00" y1="101.44" x2="449.80" y2="101.44" stroke="#000" stroke-width="0.9"/>
<line x1="448.00" y1="98.88" x2="449.80" y2="98.88" stroke="#000" stroke-width="0.9"/>
<line x1="448.00" y1="96.32" x2="449.80" y2="96.32" stroke="#000" stroke-width="0.9"/>
<line x1="448.00" y1="93.76" x2="449.80" y2="93.76" stroke="#000" stroke-width="0.9"/>
<line x1="448.00" y1="91.20" x2="449.80" y2="91.20" stroke="#000" stroke-width="0.9"/>
<line x1="448.00" y1="88.64" x2="449.80" y2="88.64" stroke="#000" stroke-width="0.9"/>
<line x1="448.00" y1="86.08" x2="449.80" y2="86.08" stroke="#000" stroke-width="0.9"/>
<line x1="448.00" y1="83.52" x2="449.80" y2="83.52" stroke="#000" stroke-width="0.9"/>
<line x1="448.00" y1="80.96" x2="449.80" y2="80.96" stroke="#000" stroke-width="0.9"/>
<line x1="448.00" y1="78.40" x2="449.80" y2="78.40" stroke="#000" stroke-width="0.9"/>
<line x1="448.00" y1="75.84" x2="449.80" y2="75.84" stroke="#000" stroke-width="0.9"/>
<line x1="448.00" y1="73.28" x2="449.80" y2="73.28" stroke="#000" stroke-width="0.9"/>
<line x1="448.00" y1="70.72" x2="449.80" y2="70.72" stroke="#000" stroke-width="0.9"/>
<line x1="448.00" y1="68.16" x2="449.80" y2="68.16" stroke="#000" stroke-width="0.9"/>
<line x1="448.00" y1="65.60" x2="449.80" y2="65.60" stroke="#000" stroke-width="0.9"/>
<line x1="448.00" y1="63.04" x2="449.80" y2="63.04" stroke="#000" stroke-width="0.9"/>
<line x1="448.00" y1="60.48" x2="449.80" y2="60.48" stroke="#000" stroke-width="0.9"/>
<line x1="448.00" y1="57.92" x2="449.80" y2="57.92" stroke="#000" stroke-width="0.9"/>
<line x1="448.00" y1="55.36" x2="449.80" y2="55.36" stroke="#000" stroke-width="0.9"/>
<line x1="448.00" y1="52.80" x2="449.80" y2="52.80" stroke="#000" stroke-width="0.9"/>
<line x1="448.00" y1="50.24" x2="449.80" y2="50.24" stroke="#000" stroke-width="0.9"/>
<line x1="448.00" y1="47.68" x2="449.80" y2="47.68" stroke="#000" stroke-width="0.9"/>
<line x1="448.00" y1="45.12" x2="449.80" y2="45.12" stroke="#000" stroke-width="0.9"/>
<line x1="448.00" y1="42.56" x2="449.80" y2="42.56" stroke="#000" stroke-width="0.9"/>
<line x1="448.00" y1="40.00" x2="449.80" y2="40.00" stroke="#000" stroke-width="0.9"/>
<line x1="448.00" y1="37.44" x2="449.80" y2="37.44" stroke="#000" stroke-width="0.9"/>
<text x="442.40" y="44.70" font-size="7.2" stroke="#111" stroke-width="0.14" fill="#111" text-anchor="end">100</text>
<text x="442.40" y="68.90" font-size="7.2" stroke="#111" stroke-width="0.14" fill="#111" text-anchor="end">60</text>
<text x="442.40" y="82.30" font-size="7.2" stroke="#111" stroke-width="0.14" fill="#111" text-anchor="end">40</text>
<text x="442.40" y="104.10" font-size="7.2" stroke="#111" stroke-width="0.14" fill="#111" text-anchor="end">0</text>
<line x1="449.80" y1="104.00" x2="541.60" y2="104.00" stroke="#000" stroke-width="1.1"/>
<line x1="452.80" y1="104.00" x2="452.80" y2="108.40" stroke="#000" stroke-width="1.3"/>
<line x1="473.20" y1="104.00" x2="473.20" y2="108.40" stroke="#000" stroke-width="1.3"/>
<line x1="490.50" y1="104.00" x2="490.50" y2="108.40" stroke="#000" stroke-width="1.3"/>
<line x1="514.50" y1="104.00" x2="514.50" y2="108.40" stroke="#000" stroke-width="1.3"/>
<line x1="536.00" y1="104.00" x2="536.00" y2="108.40" stroke="#000" stroke-width="1.3"/>
<line x1="455.00" y1="104.00" x2="455.00" y2="106.80" stroke="#000" stroke-width="1.0"/>
<line x1="456.70" y1="104.00" x2="456.70" y2="106.80" stroke="#000" stroke-width="1.0"/>
<line x1="458.50" y1="104.00" x2="458.50" y2="106.80" stroke="#000" stroke-width="1.0"/>
<line x1="460.20" y1="104.00" x2="460.20" y2="106.80" stroke="#000" stroke-width="1.0"/>
<line x1="462.40" y1="104.00" x2="462.40" y2="106.80" stroke="#000" stroke-width="1.0"/>
<line x1="464.60" y1="104.00" x2="464.60" y2="106.80" stroke="#000" stroke-width="1.0"/>
<line x1="466.30" y1="104.00" x2="466.30" y2="106.80" stroke="#000" stroke-width="1.0"/>
<line x1="468.50" y1="104.00" x2="468.50" y2="106.80" stroke="#000" stroke-width="1.0"/>
<line x1="469.25" y1="104.00" x2="469.25" y2="106.80" stroke="#000" stroke-width="1.0"/>
<line x1="470.00" y1="104.00" x2="470.00" y2="106.80" stroke="#000" stroke-width="1.0"/>
<line x1="470.75" y1="104.00" x2="470.75" y2="106.80" stroke="#000" stroke-width="1.0"/>
<line x1="471.50" y1="104.00" x2="471.50" y2="106.80" stroke="#000" stroke-width="1.0"/>
<line x1="472.25" y1="104.00" x2="472.25" y2="106.80" stroke="#000" stroke-width="1.0"/>
<line x1="473.00" y1="104.00" x2="473.00" y2="106.80" stroke="#000" stroke-width="1.0"/>
<line x1="473.75" y1="104.00" x2="473.75" y2="106.80" stroke="#000" stroke-width="1.0"/>
<line x1="474.50" y1="104.00" x2="474.50" y2="106.80" stroke="#000" stroke-width="1.0"/>
<line x1="476.80" y1="104.00" x2="476.80" y2="106.80" stroke="#000" stroke-width="1.0"/>
<line x1="478.50" y1="104.00" x2="478.50" y2="106.80" stroke="#000" stroke-width="1.0"/>
<line x1="480.20" y1="104.00" x2="480.20" y2="106.80" stroke="#000" stroke-width="1.0"/>
<line x1="482.00" y1="104.00" x2="482.00" y2="106.80" stroke="#000" stroke-width="1.0"/>
<line x1="483.80" y1="104.00" x2="483.80" y2="106.80" stroke="#000" stroke-width="1.0"/>
<line x1="485.00" y1="104.00" x2="485.00" y2="106.80" stroke="#000" stroke-width="1.0"/>
<line x1="487.00" y1="104.00" x2="487.00" y2="106.80" stroke="#000" stroke-width="1.0"/>
<line x1="497.72" y1="104.00" x2="497.72" y2="106.80" stroke="#000" stroke-width="1.0"/>
<line x1="520.97" y1="104.00" x2="520.97" y2="106.80" stroke="#000" stroke-width="1.0"/>
<line x1="501.95" y1="104.00" x2="501.95" y2="106.80" stroke="#000" stroke-width="1.0"/>
<line x1="524.76" y1="104.00" x2="524.76" y2="106.80" stroke="#000" stroke-width="1.0"/>
<line x1="504.95" y1="104.00" x2="504.95" y2="106.80" stroke="#000" stroke-width="1.0"/>
<line x1="527.44" y1="104.00" x2="527.44" y2="106.80" stroke="#000" stroke-width="1.0"/>
<line x1="507.28" y1="104.00" x2="507.28" y2="106.80" stroke="#000" stroke-width="1.0"/>
<line x1="529.53" y1="104.00" x2="529.53" y2="106.80" stroke="#000" stroke-width="1.0"/>
<line x1="509.18" y1="104.00" x2="509.18" y2="106.80" stroke="#000" stroke-width="1.0"/>
<line x1="531.23" y1="104.00" x2="531.23" y2="106.80" stroke="#000" stroke-width="1.0"/>
<line x1="510.78" y1="104.00" x2="510.78" y2="106.80" stroke="#000" stroke-width="1.0"/>
<line x1="532.67" y1="104.00" x2="532.67" y2="106.80" stroke="#000" stroke-width="1.0"/>
<line x1="512.17" y1="104.00" x2="512.17" y2="106.80" stroke="#000" stroke-width="1.0"/>
<line x1="533.92" y1="104.00" x2="533.92" y2="106.80" stroke="#000" stroke-width="1.0"/>
<line x1="513.40" y1="104.00" x2="513.40" y2="106.80" stroke="#000" stroke-width="1.0"/>
<line x1="535.02" y1="104.00" x2="535.02" y2="106.80" stroke="#000" stroke-width="1.0"/>
<text x="474.20" y="120.50" font-size="7.5" stroke="#111" stroke-width="0.14" fill="#111" text-anchor="middle">0</text>
<text x="512.60" y="120.50" font-size="7.5" stroke="#111" stroke-width="0.14" fill="#111">10</text>
<text x="522.20" y="115.20" font-size="6.5" stroke="#111" stroke-width="0.14" fill="#111">4</text>
<text x="491.30" y="134.10" font-size="7.3" stroke="#111" stroke-width="0.14" fill="#111" text-anchor="middle" textLength="52.6" lengthAdjust="spacingAndGlyphs">anti-2E3-AF488</text>
<text x="425.00" y="73.00" font-size="7.3" stroke="#111" stroke-width="0.14" fill="#111" text-anchor="middle" textLength="70" lengthAdjust="spacingAndGlyphs" transform="rotate(-90 425.00 73.00)">Normalized To Mode</text>
<text x="452.20" y="48.00" font-size="12" textLength="45" lengthAdjust="spacingAndGlyphs">CD41a−</text>
<path d="M484.00,218.70 C484.92,218.58 488.00,218.62 489.50,218.00 C491.00,217.38 492.00,216.50 493.00,215.00 C494.00,213.50 494.70,212.40 495.50,209.00 C496.30,205.60 497.05,198.60 497.80,194.60 C498.55,190.60 499.22,188.27 500.00,185.00 C500.78,181.73 501.75,178.17 502.50,175.00 C503.25,171.83 503.98,167.93 504.50,166.00 C505.02,164.07 505.22,163.40 505.60,163.40 C505.98,163.40 506.40,164.57 506.80,166.00 C507.20,167.43 507.60,169.33 508.00,172.00 C508.40,174.67 508.75,178.23 509.20,182.00 C509.65,185.77 510.07,190.77 510.70,194.60 C511.33,198.43 512.12,201.93 513.00,205.00 C513.88,208.07 514.90,210.83 516.00,213.00 C517.10,215.17 518.27,217.05 519.60,218.00 C520.93,218.95 523.27,218.58 524.00,218.70 Z" fill="#d2d2d2"/>
<path d="M451.00,218.70 C457.50,218.70 482.67,218.82 490.00,218.70 C497.33,218.58 493.33,218.78 495.00,218.00 C496.67,217.22 498.67,215.67 500.00,214.00 C501.33,212.33 502.17,210.33 503.00,208.00 C503.83,205.67 504.37,202.23 505.00,200.00 C505.63,197.77 506.30,197.10 506.80,194.60 C507.30,192.10 507.58,188.60 508.00,185.00 C508.42,181.40 508.90,176.13 509.30,173.00 C509.70,169.87 510.03,167.12 510.40,166.20 C510.77,165.28 511.18,166.87 511.50,167.50 C511.82,168.13 511.97,169.67 512.30,170.00 C512.63,170.33 513.13,169.17 513.50,169.50 C513.87,169.83 514.17,169.92 514.50,172.00 C514.83,174.08 515.12,178.23 515.50,182.00 C515.88,185.77 516.30,190.77 516.80,194.60 C517.30,198.43 517.88,202.10 518.50,205.00 C519.12,207.90 519.83,210.08 520.50,212.00 C521.17,213.92 521.82,215.47 522.50,216.50 C523.18,217.53 523.35,217.83 524.60,218.20 C525.85,218.57 527.27,218.62 530.00,218.70 C532.73,218.78 539.17,218.70 541.00,218.70 Z" fill="#b08add" fill-opacity="0.78"/>
<path d="M484.00,218.70 C484.92,218.58 488.00,218.62 489.50,218.00 C491.00,217.38 492.00,216.50 493.00,215.00 C494.00,213.50 494.70,212.40 495.50,209.00 C496.30,205.60 497.05,198.60 497.80,194.60 C498.55,190.60 499.22,188.27 500.00,185.00 C500.78,181.73 501.75,178.17 502.50,175.00 C503.25,171.83 503.98,167.93 504.50,166.00 C505.02,164.07 505.22,163.40 505.60,163.40 C505.98,163.40 506.40,164.57 506.80,166.00 C507.20,167.43 507.60,169.33 508.00,172.00 C508.40,174.67 508.75,178.23 509.20,182.00 C509.65,185.77 510.07,190.77 510.70,194.60 C511.33,198.43 512.12,201.93 513.00,205.00 C513.88,208.07 514.90,210.83 516.00,213.00 C517.10,215.17 518.27,217.05 519.60,218.00 C520.93,218.95 523.27,218.58 524.00,218.70" fill="none" stroke="#8a8a8a" stroke-width="0.9" stroke-dasharray="2.2,1.4"/>
<path d="M451.00,218.70 C457.50,218.70 482.67,218.82 490.00,218.70 C497.33,218.58 493.33,218.78 495.00,218.00 C496.67,217.22 498.67,215.67 500.00,214.00 C501.33,212.33 502.17,210.33 503.00,208.00 C503.83,205.67 504.37,202.23 505.00,200.00 C505.63,197.77 506.30,197.10 506.80,194.60 C507.30,192.10 507.58,188.60 508.00,185.00 C508.42,181.40 508.90,176.13 509.30,173.00 C509.70,169.87 510.03,167.12 510.40,166.20 C510.77,165.28 511.18,166.87 511.50,167.50 C511.82,168.13 511.97,169.67 512.30,170.00 C512.63,170.33 513.13,169.17 513.50,169.50 C513.87,169.83 514.17,169.92 514.50,172.00 C514.83,174.08 515.12,178.23 515.50,182.00 C515.88,185.77 516.30,190.77 516.80,194.60 C517.30,198.43 517.88,202.10 518.50,205.00 C519.12,207.90 519.83,210.08 520.50,212.00 C521.17,213.92 521.82,215.47 522.50,216.50 C523.18,217.53 523.35,217.83 524.60,218.20 C525.85,218.57 527.27,218.62 530.00,218.70 C532.73,218.78 539.17,218.70 541.00,218.70" fill="none" stroke="#8a2be2" stroke-width="1.1"/>
<line x1="449.80" y1="149.40" x2="541.60" y2="149.40" stroke="#aaa" stroke-width="0.8"/>
<line x1="541.60" y1="149.40" x2="541.60" y2="218.70" stroke="#aaa" stroke-width="0.8"/>
<line x1="449.80" y1="149.40" x2="449.80" y2="218.70" stroke="#000" stroke-width="1.0"/>
<line x1="445.80" y1="218.70" x2="449.80" y2="218.70" stroke="#000" stroke-width="1.6"/>
<line x1="445.80" y1="205.56" x2="449.80" y2="205.56" stroke="#000" stroke-width="1.6"/>
<line x1="445.80" y1="192.42" x2="449.80" y2="192.42" stroke="#000" stroke-width="1.6"/>
<line x1="445.80" y1="179.28" x2="449.80" y2="179.28" stroke="#000" stroke-width="1.6"/>
<line x1="445.80" y1="166.14" x2="449.80" y2="166.14" stroke="#000" stroke-width="1.6"/>
<line x1="445.80" y1="153.00" x2="449.80" y2="153.00" stroke="#000" stroke-width="1.6"/>
<line x1="448.00" y1="218.70" x2="449.80" y2="218.70" stroke="#000" stroke-width="0.9"/>
<line x1="448.00" y1="216.07" x2="449.80" y2="216.07" stroke="#000" stroke-width="0.9"/>
<line x1="448.00" y1="213.44" x2="449.80" y2="213.44" stroke="#000" stroke-width="0.9"/>
<line x1="448.00" y1="210.82" x2="449.80" y2="210.82" stroke="#000" stroke-width="0.9"/>
<line x1="448.00" y1="208.19" x2="449.80" y2="208.19" stroke="#000" stroke-width="0.9"/>
<line x1="448.00" y1="205.56" x2="449.80" y2="205.56" stroke="#000" stroke-width="0.9"/>
<line x1="448.00" y1="202.93" x2="449.80" y2="202.93" stroke="#000" stroke-width="0.9"/>
<line x1="448.00" y1="200.30" x2="449.80" y2="200.30" stroke="#000" stroke-width="0.9"/>
<line x1="448.00" y1="197.68" x2="449.80" y2="197.68" stroke="#000" stroke-width="0.9"/>
<line x1="448.00" y1="195.05" x2="449.80" y2="195.05" stroke="#000" stroke-width="0.9"/>
<line x1="448.00" y1="192.42" x2="449.80" y2="192.42" stroke="#000" stroke-width="0.9"/>
<line x1="448.00" y1="189.79" x2="449.80" y2="189.79" stroke="#000" stroke-width="0.9"/>
<line x1="448.00" y1="187.16" x2="449.80" y2="187.16" stroke="#000" stroke-width="0.9"/>
<line x1="448.00" y1="184.54" x2="449.80" y2="184.54" stroke="#000" stroke-width="0.9"/>
<line x1="448.00" y1="181.91" x2="449.80" y2="181.91" stroke="#000" stroke-width="0.9"/>
<line x1="448.00" y1="179.28" x2="449.80" y2="179.28" stroke="#000" stroke-width="0.9"/>
<line x1="448.00" y1="176.65" x2="449.80" y2="176.65" stroke="#000" stroke-width="0.9"/>
<line x1="448.00" y1="174.02" x2="449.80" y2="174.02" stroke="#000" stroke-width="0.9"/>
<line x1="448.00" y1="171.40" x2="449.80" y2="171.40" stroke="#000" stroke-width="0.9"/>
<line x1="448.00" y1="168.77" x2="449.80" y2="168.77" stroke="#000" stroke-width="0.9"/>
<line x1="448.00" y1="166.14" x2="449.80" y2="166.14" stroke="#000" stroke-width="0.9"/>
<line x1="448.00" y1="163.51" x2="449.80" y2="163.51" stroke="#000" stroke-width="0.9"/>
<line x1="448.00" y1="160.88" x2="449.80" y2="160.88" stroke="#000" stroke-width="0.9"/>
<line x1="448.00" y1="158.26" x2="449.80" y2="158.26" stroke="#000" stroke-width="0.9"/>
<line x1="448.00" y1="155.63" x2="449.80" y2="155.63" stroke="#000" stroke-width="0.9"/>
<line x1="448.00" y1="153.00" x2="449.80" y2="153.00" stroke="#000" stroke-width="0.9"/>
<line x1="448.00" y1="150.37" x2="449.80" y2="150.37" stroke="#000" stroke-width="0.9"/>
<text x="442.40" y="157.40" font-size="7.2" stroke="#111" stroke-width="0.14" fill="#111" text-anchor="end">100</text>
<text x="442.40" y="169.50" font-size="7.2" stroke="#111" stroke-width="0.14" fill="#111" text-anchor="end">80</text>
<text x="442.40" y="182.50" font-size="7.2" stroke="#111" stroke-width="0.14" fill="#111" text-anchor="end">60</text>
<text x="442.40" y="195.70" font-size="7.2" stroke="#111" stroke-width="0.14" fill="#111" text-anchor="end">40</text>
<text x="442.40" y="218.40" font-size="7.2" stroke="#111" stroke-width="0.14" fill="#111" text-anchor="end">0</text>
<line x1="449.80" y1="218.70" x2="541.60" y2="218.70" stroke="#000" stroke-width="1.1"/>
<line x1="452.80" y1="218.70" x2="452.80" y2="223.10" stroke="#000" stroke-width="1.3"/>
<line x1="473.20" y1="218.70" x2="473.20" y2="223.10" stroke="#000" stroke-width="1.3"/>
<line x1="490.50" y1="218.70" x2="490.50" y2="223.10" stroke="#000" stroke-width="1.3"/>
<line x1="514.50" y1="218.70" x2="514.50" y2="223.10" stroke="#000" stroke-width="1.3"/>
<line x1="536.00" y1="218.70" x2="536.00" y2="223.10" stroke="#000" stroke-width="1.3"/>
<line x1="455.00" y1="218.70" x2="455.00" y2="221.50" stroke="#000" stroke-width="1.0"/>
<line x1="456.70" y1="218.70" x2="456.70" y2="221.50" stroke="#000" stroke-width="1.0"/>
<line x1="458.50" y1="218.70" x2="458.50" y2="221.50" stroke="#000" stroke-width="1.0"/>
<line x1="460.20" y1="218.70" x2="460.20" y2="221.50" stroke="#000" stroke-width="1.0"/>
<line x1="462.40" y1="218.70" x2="462.40" y2="221.50" stroke="#000" stroke-width="1.0"/>
<line x1="464.60" y1="218.70" x2="464.60" y2="221.50" stroke="#000" stroke-width="1.0"/>
<line x1="466.30" y1="218.70" x2="466.30" y2="221.50" stroke="#000" stroke-width="1.0"/>
<line x1="468.50" y1="218.70" x2="468.50" y2="221.50" stroke="#000" stroke-width="1.0"/>
<line x1="469.25" y1="218.70" x2="469.25" y2="221.50" stroke="#000" stroke-width="1.0"/>
<line x1="470.00" y1="218.70" x2="470.00" y2="221.50" stroke="#000" stroke-width="1.0"/>
<line x1="470.75" y1="218.70" x2="470.75" y2="221.50" stroke="#000" stroke-width="1.0"/>
<line x1="471.50" y1="218.70" x2="471.50" y2="221.50" stroke="#000" stroke-width="1.0"/>
<line x1="472.25" y1="218.70" x2="472.25" y2="221.50" stroke="#000" stroke-width="1.0"/>
<line x1="473.00" y1="218.70" x2="473.00" y2="221.50" stroke="#000" stroke-width="1.0"/>
<line x1="473.75" y1="218.70" x2="473.75" y2="221.50" stroke="#000" stroke-width="1.0"/>
<line x1="474.50" y1="218.70" x2="474.50" y2="221.50" stroke="#000" stroke-width="1.0"/>
<line x1="476.80" y1="218.70" x2="476.80" y2="221.50" stroke="#000" stroke-width="1.0"/>
<line x1="478.50" y1="218.70" x2="478.50" y2="221.50" stroke="#000" stroke-width="1.0"/>
<line x1="480.20" y1="218.70" x2="480.20" y2="221.50" stroke="#000" stroke-width="1.0"/>
<line x1="482.00" y1="218.70" x2="482.00" y2="221.50" stroke="#000" stroke-width="1.0"/>
<line x1="483.80" y1="218.70" x2="483.80" y2="221.50" stroke="#000" stroke-width="1.0"/>
<line x1="485.00" y1="218.70" x2="485.00" y2="221.50" stroke="#000" stroke-width="1.0"/>
<line x1="487.00" y1="218.70" x2="487.00" y2="221.50" stroke="#000" stroke-width="1.0"/>
<line x1="497.72" y1="218.70" x2="497.72" y2="221.50" stroke="#000" stroke-width="1.0"/>
<line x1="520.97" y1="218.70" x2="520.97" y2="221.50" stroke="#000" stroke-width="1.0"/>
<line x1="501.95" y1="218.70" x2="501.95" y2="221.50" stroke="#000" stroke-width="1.0"/>
<line x1="524.76" y1="218.70" x2="524.76" y2="221.50" stroke="#000" stroke-width="1.0"/>
<line x1="504.95" y1="218.70" x2="504.95" y2="221.50" stroke="#000" stroke-width="1.0"/>
<line x1="527.44" y1="218.70" x2="527.44" y2="221.50" stroke="#000" stroke-width="1.0"/>
<line x1="507.28" y1="218.70" x2="507.28" y2="221.50" stroke="#000" stroke-width="1.0"/>
<line x1="529.53" y1="218.70" x2="529.53" y2="221.50" stroke="#000" stroke-width="1.0"/>
<line x1="509.18" y1="218.70" x2="509.18" y2="221.50" stroke="#000" stroke-width="1.0"/>
<line x1="531.23" y1="218.70" x2="531.23" y2="221.50" stroke="#000" stroke-width="1.0"/>
<line x1="510.78" y1="218.70" x2="510.78" y2="221.50" stroke="#000" stroke-width="1.0"/>
<line x1="532.67" y1="218.70" x2="532.67" y2="221.50" stroke="#000" stroke-width="1.0"/>
<line x1="512.17" y1="218.70" x2="512.17" y2="221.50" stroke="#000" stroke-width="1.0"/>
<line x1="533.92" y1="218.70" x2="533.92" y2="221.50" stroke="#000" stroke-width="1.0"/>
<line x1="513.40" y1="218.70" x2="513.40" y2="221.50" stroke="#000" stroke-width="1.0"/>
<line x1="535.02" y1="218.70" x2="535.02" y2="221.50" stroke="#000" stroke-width="1.0"/>
<text x="474.20" y="235.20" font-size="7.5" stroke="#111" stroke-width="0.14" fill="#111" text-anchor="middle">0</text>
<text x="512.60" y="235.20" font-size="7.5" stroke="#111" stroke-width="0.14" fill="#111">10</text>
<text x="522.20" y="229.80" font-size="6.5" stroke="#111" stroke-width="0.14" fill="#111">4</text>
<text x="491.30" y="249.20" font-size="7.3" stroke="#111" stroke-width="0.14" fill="#111" text-anchor="middle" textLength="52.6" lengthAdjust="spacingAndGlyphs">anti-2E3-AF488</text>
<text x="425.00" y="188.00" font-size="7.3" stroke="#111" stroke-width="0.14" fill="#111" text-anchor="middle" textLength="70" lengthAdjust="spacingAndGlyphs" transform="rotate(-90 425.00 188.00)">Normalized To Mode</text>
<text x="460.00" y="162.60" font-size="12" textLength="45" lengthAdjust="spacingAndGlyphs">CD41a+</text>
<line x1="345.60" y1="147.90" x2="345.60" y2="222.40" stroke="#555" stroke-width="0.9"/>
<line x1="345.60" y1="222.40" x2="394.00" y2="222.40" stroke="#555" stroke-width="0.9"/>
<line x1="343.40" y1="222.40" x2="345.60" y2="222.40" stroke="#555" stroke-width="0.9"/>
<text x="342.80" y="225.10" font-size="7.6" stroke="#222" stroke-width="0.14" fill="#222" text-anchor="end">0.8</text>
<line x1="343.40" y1="203.90" x2="345.60" y2="203.90" stroke="#555" stroke-width="0.9"/>
<text x="342.80" y="206.60" font-size="7.6" stroke="#222" stroke-width="0.14" fill="#222" text-anchor="end">1.0</text>
<line x1="343.40" y1="185.40" x2="345.60" y2="185.40" stroke="#555" stroke-width="0.9"/>
<text x="342.80" y="188.10" font-size="7.6" stroke="#222" stroke-width="0.14" fill="#222" text-anchor="end">1.2</text>
<line x1="343.40" y1="166.90" x2="345.60" y2="166.90" stroke="#555" stroke-width="0.9"/>
<text x="342.80" y="169.60" font-size="7.6" stroke="#222" stroke-width="0.14" fill="#222" text-anchor="end">1.4</text>
<line x1="343.40" y1="148.40" x2="345.60" y2="148.40" stroke="#555" stroke-width="0.9"/>
<text x="342.80" y="151.10" font-size="7.6" stroke="#222" stroke-width="0.14" fill="#222" text-anchor="end">1.6</text>
<rect x="351.00" y="196.50" width="13.40" height="25.90" fill="#7d0f8c" stroke="#5a0a66" stroke-width="0.6"/>
<line x1="357.70" y1="222.40" x2="357.70" y2="224.40" stroke="#555" stroke-width="0.9"/>
<rect x="372.00" y="154.88" width="13.40" height="67.53" fill="#7d0f8c" stroke="#5a0a66" stroke-width="0.6"/>
<line x1="378.70" y1="222.40" x2="378.70" y2="224.40" stroke="#555" stroke-width="0.9"/>
<line x1="357.70" y1="192.34" x2="357.70" y2="200.66" stroke="#444" stroke-width="0.75"/>
<line x1="355.10" y1="192.34" x2="360.30" y2="192.34" stroke="#444" stroke-width="0.75"/>
<line x1="355.10" y1="200.66" x2="360.30" y2="200.66" stroke="#444" stroke-width="0.75"/>
<circle cx="357.70" cy="192.80" r="1.25" fill="#000"/>
<circle cx="357.70" cy="195.57" r="1.25" fill="#000"/>
<circle cx="357.70" cy="200.20" r="1.25" fill="#000"/>
<line x1="378.70" y1="151.64" x2="378.70" y2="156.73" stroke="#444" stroke-width="0.75"/>
<line x1="376.10" y1="151.64" x2="381.30" y2="151.64" stroke="#444" stroke-width="0.75"/>
<line x1="376.10" y1="156.73" x2="381.30" y2="156.73" stroke="#444" stroke-width="0.75"/>
<circle cx="378.50" cy="152.10" r="1.2" fill="#000"/>
<circle cx="377.30" cy="154.88" r="1.2" fill="#000"/>
<circle cx="380.10" cy="155.34" r="1.2" fill="#000"/>
<path d="M358,190 V143.5 H378.4 V147.5" fill="none" stroke="#999" stroke-width="0.8"/>
<text x="367.45" y="142.23" font-size="6.60" text-anchor="middle" font-family="DejaVu Sans" font-weight="bold" textLength="14.20" lengthAdjust="spacing" stroke="#000" stroke-width="0.3">***</text>
<text x="321.20" y="210.30" font-size="7.5" stroke="#111" stroke-width="0.14" fill="#111" textLength="57.6" lengthAdjust="spacingAndGlyphs" transform="rotate(-90 321.20 210.30)">MFI AF488 norm.</text>
<text x="327.00" y="209.60" font-size="7.5" stroke="#111" stroke-width="0.14" fill="#111" textLength="58.2" lengthAdjust="spacingAndGlyphs" transform="rotate(-90 327.00 209.60)">to Fc dead control</text>
<text x="341.47" y="249.70" font-size="7.80" fill="#111" textLength="32.23" lengthAdjust="spacingAndGlyphs" transform="rotate(-45 341.47 249.70)">CD41a−</text>
<text x="362.82" y="248.20" font-size="7.80" fill="#111" textLength="29.12" lengthAdjust="spacingAndGlyphs" transform="rotate(-45 362.82 248.20)">CD41a+</text>
<defs><clipPath id="cg"><path d="M57.00,262.30 C57.83,262.25 60.50,262.22 62.00,262.00 C63.50,261.78 64.67,261.30 66.00,261.00 C67.33,260.70 68.75,260.62 70.00,260.20 C71.25,259.78 72.22,259.62 73.50,258.50 C74.78,257.38 76.57,256.02 77.70,253.50 C78.83,250.98 79.55,246.78 80.30,243.40 C81.05,240.02 81.58,236.77 82.20,233.20 C82.82,229.63 83.37,225.20 84.00,222.00 C84.63,218.80 85.35,216.80 86.00,214.00 C86.65,211.20 87.27,207.50 87.90,205.20 C88.53,202.90 89.27,201.22 89.80,200.20 C90.33,199.18 90.63,199.10 91.10,199.10 C91.57,199.10 91.97,199.18 92.60,200.20 C93.23,201.22 94.08,202.90 94.90,205.20 C95.72,207.50 96.68,210.87 97.50,214.00 C98.32,217.13 99.07,220.80 99.80,224.00 C100.53,227.20 101.02,229.55 101.90,233.20 C102.78,236.85 103.93,241.87 105.10,245.90 C106.27,249.93 107.95,254.85 108.90,257.40 C109.85,259.95 110.12,260.38 110.80,261.20 C111.48,262.02 112.63,262.12 113.00,262.30 Z"/></clipPath></defs>
<path d="M57.00,262.30 C57.83,262.25 60.50,262.22 62.00,262.00 C63.50,261.78 64.67,261.30 66.00,261.00 C67.33,260.70 68.75,260.62 70.00,260.20 C71.25,259.78 72.22,259.62 73.50,258.50 C74.78,257.38 76.57,256.02 77.70,253.50 C78.83,250.98 79.55,246.78 80.30,243.40 C81.05,240.02 81.58,236.77 82.20,233.20 C82.82,229.63 83.37,225.20 84.00,222.00 C84.63,218.80 85.35,216.80 86.00,214.00 C86.65,211.20 87.27,207.50 87.90,205.20 C88.53,202.90 89.27,201.22 89.80,200.20 C90.33,199.18 90.63,199.10 91.10,199.10 C91.57,199.10 91.97,199.18 92.60,200.20 C93.23,201.22 94.08,202.90 94.90,205.20 C95.72,207.50 96.68,210.87 97.50,214.00 C98.32,217.13 99.07,220.80 99.80,224.00 C100.53,227.20 101.02,229.55 101.90,233.20 C102.78,236.85 103.93,241.87 105.10,245.90 C106.27,249.93 107.95,254.85 108.90,257.40 C109.85,259.95 110.12,260.38 110.80,261.20 C111.48,262.02 112.63,262.12 113.00,262.30 Z" fill="#8c8c8c"/>
<path d="M57.00,262.30 C59.17,262.27 66.17,262.28 70.00,262.10 C73.83,261.92 77.33,261.62 80.00,261.20 C82.67,260.78 84.25,260.23 86.00,259.60 C87.75,258.97 89.00,258.43 90.50,257.40 C92.00,256.37 93.52,255.32 95.00,253.40 C96.48,251.48 98.27,248.63 99.40,245.90 C100.53,243.17 101.07,240.18 101.80,237.00 C102.53,233.82 103.02,230.63 103.80,226.80 C104.58,222.97 105.63,217.63 106.50,214.00 C107.37,210.37 108.33,207.27 109.00,205.00 C109.67,202.73 110.08,201.32 110.50,200.40 C110.92,199.48 111.15,199.50 111.50,199.50 C111.85,199.50 112.15,199.48 112.60,200.40 C113.05,201.32 113.55,202.73 114.20,205.00 C114.85,207.27 115.78,210.37 116.50,214.00 C117.22,217.63 117.87,222.97 118.50,226.80 C119.13,230.63 119.73,233.82 120.30,237.00 C120.87,240.18 121.20,242.83 121.90,245.90 C122.60,248.97 123.58,252.85 124.50,255.40 C125.42,257.95 126.15,260.07 127.40,261.20 C128.65,262.33 127.07,262.02 132.00,262.20 C136.93,262.38 152.83,262.28 157.00,262.30 Z" fill="#c98ff0"/>
<g clip-path="url(#cg)">
<path d="M57.00,262.30 C59.17,262.27 66.17,262.28 70.00,262.10 C73.83,261.92 77.33,261.62 80.00,261.20 C82.67,260.78 84.25,260.23 86.00,259.60 C87.75,258.97 89.00,258.43 90.50,257.40 C92.00,256.37 93.52,255.32 95.00,253.40 C96.48,251.48 98.27,248.63 99.40,245.90 C100.53,243.17 101.07,240.18 101.80,237.00 C102.53,233.82 103.02,230.63 103.80,226.80 C104.58,222.97 105.63,217.63 106.50,214.00 C107.37,210.37 108.33,207.27 109.00,205.00 C109.67,202.73 110.08,201.32 110.50,200.40 C110.92,199.48 111.15,199.50 111.50,199.50 C111.85,199.50 112.15,199.48 112.60,200.40 C113.05,201.32 113.55,202.73 114.20,205.00 C114.85,207.27 115.78,210.37 116.50,214.00 C117.22,217.63 117.87,222.97 118.50,226.80 C119.13,230.63 119.73,233.82 120.30,237.00 C120.87,240.18 121.20,242.83 121.90,245.90 C122.60,248.97 123.58,252.85 124.50,255.40 C125.42,257.95 126.15,260.07 127.40,261.20 C128.65,262.33 127.07,262.02 132.00,262.20 C136.93,262.38 152.83,262.28 157.00,262.30 Z" fill="#7b4797"/>
</g>
<path d="M57.00,262.30 C57.83,262.25 60.50,262.22 62.00,262.00 C63.50,261.78 64.67,261.30 66.00,261.00 C67.33,260.70 68.75,260.62 70.00,260.20 C71.25,259.78 72.22,259.62 73.50,258.50 C74.78,257.38 76.57,256.02 77.70,253.50 C78.83,250.98 79.55,246.78 80.30,243.40 C81.05,240.02 81.58,236.77 82.20,233.20 C82.82,229.63 83.37,225.20 84.00,222.00 C84.63,218.80 85.35,216.80 86.00,214.00 C86.65,211.20 87.27,207.50 87.90,205.20 C88.53,202.90 89.27,201.22 89.80,200.20 C90.33,199.18 90.63,199.10 91.10,199.10 C91.57,199.10 91.97,199.18 92.60,200.20 C93.23,201.22 94.08,202.90 94.90,205.20 C95.72,207.50 96.68,210.87 97.50,214.00 C98.32,217.13 99.07,220.80 99.80,224.00 C100.53,227.20 101.02,229.55 101.90,233.20 C102.78,236.85 103.93,241.87 105.10,245.90 C106.27,249.93 107.95,254.85 108.90,257.40 C109.85,259.95 110.12,260.38 110.80,261.20 C111.48,262.02 112.63,262.12 113.00,262.30" fill="none" stroke="#111" stroke-width="1.3" stroke-dasharray="3.2,2"/>
<path d="M57.00,262.30 C59.17,262.27 66.17,262.28 70.00,262.10 C73.83,261.92 77.33,261.62 80.00,261.20 C82.67,260.78 84.25,260.23 86.00,259.60 C87.75,258.97 89.00,258.43 90.50,257.40 C92.00,256.37 93.52,255.32 95.00,253.40 C96.48,251.48 98.27,248.63 99.40,245.90 C100.53,243.17 101.07,240.18 101.80,237.00 C102.53,233.82 103.02,230.63 103.80,226.80 C104.58,222.97 105.63,217.63 106.50,214.00 C107.37,210.37 108.33,207.27 109.00,205.00 C109.67,202.73 110.08,201.32 110.50,200.40 C110.92,199.48 111.15,199.50 111.50,199.50 C111.85,199.50 112.15,199.48 112.60,200.40 C113.05,201.32 113.55,202.73 114.20,205.00 C114.85,207.27 115.78,210.37 116.50,214.00 C117.22,217.63 117.87,222.97 118.50,226.80 C119.13,230.63 119.73,233.82 120.30,237.00 C120.87,240.18 121.20,242.83 121.90,245.90 C122.60,248.97 123.58,252.85 124.50,255.40 C125.42,257.95 126.15,260.07 127.40,261.20 C128.65,262.33 127.07,262.02 132.00,262.20 C136.93,262.38 152.83,262.28 157.00,262.30" fill="none" stroke="#9a2df0" stroke-width="1.2"/>
<line x1="56.10" y1="196.00" x2="157.40" y2="196.00" stroke="#aaa" stroke-width="0.8"/>
<line x1="157.40" y1="196.00" x2="157.40" y2="262.30" stroke="#aaa" stroke-width="0.8"/>
<line x1="56.10" y1="196.00" x2="56.10" y2="262.30" stroke="#000" stroke-width="0.9"/>
<line x1="52.30" y1="262.30" x2="56.10" y2="262.30" stroke="#000" stroke-width="1.3"/>
<line x1="52.30" y1="249.72" x2="56.10" y2="249.72" stroke="#000" stroke-width="1.3"/>
<line x1="52.30" y1="237.14" x2="56.10" y2="237.14" stroke="#000" stroke-width="1.3"/>
<line x1="52.30" y1="224.56" x2="56.10" y2="224.56" stroke="#000" stroke-width="1.3"/>
<line x1="52.30" y1="211.98" x2="56.10" y2="211.98" stroke="#000" stroke-width="1.3"/>
<line x1="52.30" y1="199.40" x2="56.10" y2="199.40" stroke="#000" stroke-width="1.3"/>
<line x1="54.50" y1="262.30" x2="56.10" y2="262.30" stroke="#000" stroke-width="0.6"/>
<line x1="54.50" y1="259.78" x2="56.10" y2="259.78" stroke="#000" stroke-width="0.6"/>
<line x1="54.50" y1="257.27" x2="56.10" y2="257.27" stroke="#000" stroke-width="0.6"/>
<line x1="54.50" y1="254.75" x2="56.10" y2="254.75" stroke="#000" stroke-width="0.6"/>
<line x1="54.50" y1="252.24" x2="56.10" y2="252.24" stroke="#000" stroke-width="0.6"/>
<line x1="54.50" y1="249.72" x2="56.10" y2="249.72" stroke="#000" stroke-width="0.6"/>
<line x1="54.50" y1="247.20" x2="56.10" y2="247.20" stroke="#000" stroke-width="0.6"/>
<line x1="54.50" y1="244.69" x2="56.10" y2="244.69" stroke="#000" stroke-width="0.6"/>
<line x1="54.50" y1="242.17" x2="56.10" y2="242.17" stroke="#000" stroke-width="0.6"/>
<line x1="54.50" y1="239.66" x2="56.10" y2="239.66" stroke="#000" stroke-width="0.6"/>
<line x1="54.50" y1="237.14" x2="56.10" y2="237.14" stroke="#000" stroke-width="0.6"/>
<line x1="54.50" y1="234.62" x2="56.10" y2="234.62" stroke="#000" stroke-width="0.6"/>
<line x1="54.50" y1="232.11" x2="56.10" y2="232.11" stroke="#000" stroke-width="0.6"/>
<line x1="54.50" y1="229.59" x2="56.10" y2="229.59" stroke="#000" stroke-width="0.6"/>
<line x1="54.50" y1="227.08" x2="56.10" y2="227.08" stroke="#000" stroke-width="0.6"/>
<line x1="54.50" y1="224.56" x2="56.10" y2="224.56" stroke="#000" stroke-width="0.6"/>
<line x1="54.50" y1="222.04" x2="56.10" y2="222.04" stroke="#000" stroke-width="0.6"/>
<line x1="54.50" y1="219.53" x2="56.10" y2="219.53" stroke="#000" stroke-width="0.6"/>
<line x1="54.50" y1="217.01" x2="56.10" y2="217.01" stroke="#000" stroke-width="0.6"/>
<line x1="54.50" y1="214.50" x2="56.10" y2="214.50" stroke="#000" stroke-width="0.6"/>
<line x1="54.50" y1="211.98" x2="56.10" y2="211.98" stroke="#000" stroke-width="0.6"/>
<line x1="54.50" y1="209.46" x2="56.10" y2="209.46" stroke="#000" stroke-width="0.6"/>
<line x1="54.50" y1="206.95" x2="56.10" y2="206.95" stroke="#000" stroke-width="0.6"/>
<line x1="54.50" y1="204.43" x2="56.10" y2="204.43" stroke="#000" stroke-width="0.6"/>
<line x1="54.50" y1="201.92" x2="56.10" y2="201.92" stroke="#000" stroke-width="0.6"/>
<line x1="54.50" y1="199.40" x2="56.10" y2="199.40" stroke="#000" stroke-width="0.6"/>
<text x="50.40" y="204.90" font-size="7.3" stroke="#111" stroke-width="0.14" fill="#111" text-anchor="end">100</text>
<text x="50.40" y="215.00" font-size="7.3" stroke="#111" stroke-width="0.14" fill="#111" text-anchor="end">80</text>
<text x="50.40" y="228.50" font-size="7.3" stroke="#111" stroke-width="0.14" fill="#111" text-anchor="end">60</text>
<text x="50.40" y="241.50" font-size="7.3" stroke="#111" stroke-width="0.14" fill="#111" text-anchor="end">40</text>
<text x="50.40" y="262.30" font-size="7.3" stroke="#111" stroke-width="0.14" fill="#111" text-anchor="end">0</text>
<line x1="56.10" y1="262.30" x2="157.40" y2="262.30" stroke="#000" stroke-width="1.0"/>
<line x1="61.00" y1="262.30" x2="61.00" y2="266.70" stroke="#000" stroke-width="1.3"/>
<line x1="92.00" y1="262.30" x2="92.00" y2="266.70" stroke="#000" stroke-width="1.3"/>
<line x1="122.00" y1="262.30" x2="122.00" y2="266.70" stroke="#000" stroke-width="1.3"/>
<line x1="153.00" y1="262.30" x2="153.00" y2="266.70" stroke="#000" stroke-width="1.3"/>
<line x1="62.00" y1="262.30" x2="62.00" y2="265.10" stroke="#000" stroke-width="1.0"/>
<line x1="63.00" y1="262.30" x2="63.00" y2="265.10" stroke="#000" stroke-width="1.0"/>
<line x1="65.00" y1="262.30" x2="65.00" y2="265.10" stroke="#000" stroke-width="1.0"/>
<line x1="67.00" y1="262.30" x2="67.00" y2="265.10" stroke="#000" stroke-width="1.0"/>
<line x1="69.00" y1="262.30" x2="69.00" y2="265.10" stroke="#000" stroke-width="1.0"/>
<line x1="71.00" y1="262.30" x2="71.00" y2="265.10" stroke="#000" stroke-width="1.0"/>
<line x1="73.00" y1="262.30" x2="73.00" y2="265.10" stroke="#000" stroke-width="1.0"/>
<line x1="74.50" y1="262.30" x2="74.50" y2="265.10" stroke="#000" stroke-width="1.0"/>
<line x1="80.50" y1="262.30" x2="80.50" y2="265.10" stroke="#000" stroke-width="1.0"/>
<line x1="81.50" y1="262.30" x2="81.50" y2="265.10" stroke="#000" stroke-width="1.0"/>
<line x1="82.50" y1="262.30" x2="82.50" y2="265.10" stroke="#000" stroke-width="1.0"/>
<line x1="83.50" y1="262.30" x2="83.50" y2="265.10" stroke="#000" stroke-width="1.0"/>
<line x1="85.00" y1="262.30" x2="85.00" y2="265.10" stroke="#000" stroke-width="1.0"/>
<line x1="85.90" y1="262.30" x2="85.90" y2="265.10" stroke="#000" stroke-width="1.0"/>
<line x1="86.80" y1="262.30" x2="86.80" y2="265.10" stroke="#000" stroke-width="1.0"/>
<line x1="87.70" y1="262.30" x2="87.70" y2="265.10" stroke="#000" stroke-width="1.0"/>
<line x1="88.60" y1="262.30" x2="88.60" y2="265.10" stroke="#000" stroke-width="1.0"/>
<line x1="89.50" y1="262.30" x2="89.50" y2="265.10" stroke="#000" stroke-width="1.0"/>
<line x1="90.40" y1="262.30" x2="90.40" y2="265.10" stroke="#000" stroke-width="1.0"/>
<line x1="91.30" y1="262.30" x2="91.30" y2="265.10" stroke="#000" stroke-width="1.0"/>
<line x1="92.20" y1="262.30" x2="92.20" y2="265.10" stroke="#000" stroke-width="1.0"/>
<line x1="93.10" y1="262.30" x2="93.10" y2="265.10" stroke="#000" stroke-width="1.0"/>
<line x1="97.00" y1="262.30" x2="97.00" y2="265.10" stroke="#000" stroke-width="1.0"/>
<line x1="99.00" y1="262.30" x2="99.00" y2="265.10" stroke="#000" stroke-width="1.0"/>
<line x1="100.50" y1="262.30" x2="100.50" y2="265.10" stroke="#000" stroke-width="1.0"/>
<line x1="103.00" y1="262.30" x2="103.00" y2="265.10" stroke="#000" stroke-width="1.0"/>
<line x1="106.00" y1="262.30" x2="106.00" y2="265.10" stroke="#000" stroke-width="1.0"/>
<line x1="107.00" y1="262.30" x2="107.00" y2="265.10" stroke="#000" stroke-width="1.0"/>
<line x1="110.00" y1="262.30" x2="110.00" y2="265.10" stroke="#000" stroke-width="1.0"/>
<line x1="111.00" y1="262.30" x2="111.00" y2="265.10" stroke="#000" stroke-width="1.0"/>
<line x1="114.00" y1="262.30" x2="114.00" y2="265.10" stroke="#000" stroke-width="1.0"/>
<line x1="116.00" y1="262.30" x2="116.00" y2="265.10" stroke="#000" stroke-width="1.0"/>
<line x1="118.00" y1="262.30" x2="118.00" y2="265.10" stroke="#000" stroke-width="1.0"/>
<line x1="119.50" y1="262.30" x2="119.50" y2="265.10" stroke="#000" stroke-width="1.0"/>
<line x1="128.00" y1="262.30" x2="128.00" y2="265.10" stroke="#000" stroke-width="1.0"/>
<line x1="132.00" y1="262.30" x2="132.00" y2="265.10" stroke="#000" stroke-width="1.0"/>
<line x1="134.00" y1="262.30" x2="134.00" y2="265.10" stroke="#000" stroke-width="1.0"/>
<line x1="136.00" y1="262.30" x2="136.00" y2="265.10" stroke="#000" stroke-width="1.0"/>
<line x1="137.00" y1="262.30" x2="137.00" y2="265.10" stroke="#000" stroke-width="1.0"/>
<line x1="138.00" y1="262.30" x2="138.00" y2="265.10" stroke="#000" stroke-width="1.0"/>
<line x1="143.00" y1="262.30" x2="143.00" y2="265.10" stroke="#000" stroke-width="1.0"/>
<line x1="146.00" y1="262.30" x2="146.00" y2="265.10" stroke="#000" stroke-width="1.0"/>
<line x1="148.00" y1="262.30" x2="148.00" y2="265.10" stroke="#000" stroke-width="1.0"/>
<line x1="149.00" y1="262.30" x2="149.00" y2="265.10" stroke="#000" stroke-width="1.0"/>
<line x1="151.00" y1="262.30" x2="151.00" y2="265.10" stroke="#000" stroke-width="1.0"/>
<line x1="152.50" y1="262.30" x2="152.50" y2="265.10" stroke="#000" stroke-width="1.0"/>
<text x="64.40" y="278.00" font-size="7.6" stroke="#111" stroke-width="0.14" fill="#111" text-anchor="middle">−10</text>
<text x="71.00" y="272.00" font-size="6.6" stroke="#111" stroke-width="0.14" fill="#111">4</text>
<text x="92.00" y="278.00" font-size="7.6" stroke="#111" stroke-width="0.14" fill="#111" text-anchor="middle">0</text>
<text x="119.00" y="278.00" font-size="7.6" stroke="#111" stroke-width="0.14" fill="#111">10</text>
<text x="128.20" y="272.00" font-size="6.6" stroke="#111" stroke-width="0.14" fill="#111">4</text>
<text x="145.20" y="278.00" font-size="7.6" stroke="#111" stroke-width="0.14" fill="#111">10</text>
<text x="152.40" y="272.00" font-size="6.6" stroke="#111" stroke-width="0.14" fill="#111">6</text>
<text x="107.50" y="294.00" font-size="7.6" stroke="#111" stroke-width="0.14" fill="#111" text-anchor="middle" textLength="81" lengthAdjust="spacingAndGlyphs">anti-2E3-Alexa Fluor448</text>
<text x="35.20" y="231.20" font-size="7.3" stroke="#111" stroke-width="0.14" fill="#111" text-anchor="middle" textLength="70.4" lengthAdjust="spacingAndGlyphs" transform="rotate(-90 35.20 231.20)">Normalized To Mode</text>
<line x1="217.20" y1="185.00" x2="217.20" y2="278.60" stroke="#888" stroke-width="0.8"/>
<line x1="217.20" y1="278.60" x2="282.00" y2="278.60" stroke="#888" stroke-width="0.8"/>
<line x1="215.00" y1="278.60" x2="217.20" y2="278.60" stroke="#666" stroke-width="0.9"/>
<text x="214.20" y="281.40" font-size="8" stroke="#222" stroke-width="0.14" fill="#222" text-anchor="end">0</text>
<line x1="215.00" y1="255.20" x2="217.20" y2="255.20" stroke="#666" stroke-width="0.9"/>
<text x="214.20" y="258.00" font-size="8" stroke="#222" stroke-width="0.14" fill="#222" text-anchor="end">2</text>
<line x1="215.00" y1="231.80" x2="217.20" y2="231.80" stroke="#666" stroke-width="0.9"/>
<text x="214.20" y="234.60" font-size="8" stroke="#222" stroke-width="0.14" fill="#222" text-anchor="end">4</text>
<line x1="215.00" y1="208.40" x2="217.20" y2="208.40" stroke="#666" stroke-width="0.9"/>
<text x="214.20" y="211.20" font-size="8" stroke="#222" stroke-width="0.14" fill="#222" text-anchor="end">6</text>
<line x1="215.00" y1="185.00" x2="217.20" y2="185.00" stroke="#666" stroke-width="0.9"/>
<text x="214.20" y="187.80" font-size="8" stroke="#222" stroke-width="0.14" fill="#222" text-anchor="end">8</text>
<rect x="223.50" y="266.55" width="11.60" height="12.05" fill="#000" stroke="#000" stroke-width="0.6"/>
<line x1="229.30" y1="278.60" x2="229.30" y2="280.60" stroke="#666" stroke-width="0.9"/>
<rect x="241.30" y="225.95" width="11.60" height="52.65" fill="#7d0f8c" stroke="#5a0a66" stroke-width="0.6"/>
<line x1="247.10" y1="278.60" x2="247.10" y2="280.60" stroke="#666" stroke-width="0.9"/>
<rect x="259.20" y="208.99" width="11.60" height="69.62" fill="#7d0f8c" stroke="#5a0a66" stroke-width="0.6"/>
<line x1="265.00" y1="278.60" x2="265.00" y2="280.60" stroke="#666" stroke-width="0.9"/>
<circle cx="226.10" cy="266.55" r="1.4" fill="#000"/>
<circle cx="229.30" cy="266.55" r="1.4" fill="#000"/>
<circle cx="232.50" cy="266.55" r="1.4" fill="#000"/>
<line x1="247.10" y1="220.69" x2="247.10" y2="231.22" stroke="#444" stroke-width="0.75"/>
<line x1="244.50" y1="220.69" x2="249.70" y2="220.69" stroke="#444" stroke-width="0.75"/>
<line x1="244.50" y1="231.22" x2="249.70" y2="231.22" stroke="#444" stroke-width="0.75"/>
<circle cx="247.10" cy="221.27" r="1.35" fill="#000"/>
<circle cx="247.10" cy="223.03" r="1.35" fill="#000"/>
<circle cx="247.10" cy="231.80" r="1.35" fill="#000"/>
<line x1="265.00" y1="193.78" x2="265.00" y2="224.78" stroke="#444" stroke-width="0.75"/>
<line x1="262.40" y1="193.78" x2="267.60" y2="193.78" stroke="#444" stroke-width="0.75"/>
<line x1="262.40" y1="224.78" x2="267.60" y2="224.78" stroke="#444" stroke-width="0.75"/>
<circle cx="265.00" cy="197.29" r="1.35" fill="#000"/>
<circle cx="265.00" cy="202.55" r="1.35" fill="#000"/>
<circle cx="265.00" cy="225.95" r="1.35" fill="#000"/>
<path d="M229.30,264 V212.4 H247.10 V219.5" fill="none" stroke="#999" stroke-width="0.8"/>
<path d="M229.30,212.4 V186.4 H265.00 V191" fill="none" stroke="#999" stroke-width="0.8"/>
<text x="240.00" y="212.16" font-size="7.20" text-anchor="middle" font-family="DejaVu Sans" font-weight="bold" textLength="9.00" lengthAdjust="spacing" stroke="#000" stroke-width="0.3">**</text>
<text x="249.80" y="186.06" font-size="7.20" text-anchor="middle" font-family="DejaVu Sans" font-weight="bold" textLength="14.40" lengthAdjust="spacing" stroke="#000" stroke-width="0.3">***</text>
<text x="206.00" y="226.50" font-size="8.4" stroke="#111" stroke-width="0.14" fill="#111" text-anchor="middle" textLength="58.5" lengthAdjust="spacingAndGlyphs" transform="rotate(-90 206.00 226.50)">norm. MFI AF647</text>
<text x="208.22" y="313.45" font-size="8.20" fill="#111" textLength="38.32" lengthAdjust="spacingAndGlyphs" transform="rotate(-45 208.22 313.45)">neg. control</text>
<text x="234.67" y="304.25" font-size="8.20" fill="#111" textLength="29.50" lengthAdjust="spacingAndGlyphs" transform="rotate(-45 234.67 304.25)">CA9<tspan font-size="3.6" dy="-2.6">Fc-dead</tspan></text>
<text x="254.02" y="303.25" font-size="8.20" fill="#111" textLength="29.00" lengthAdjust="spacingAndGlyphs" transform="rotate(-45 254.02 303.25)">CA9<tspan font-size="3.6" dy="-2.6">Fc-wt</tspan></text>
<text x="36.60" y="375.00" font-size="9.0" stroke="#222" stroke-width="0.3" fill="#222" textLength="31" lengthAdjust="spacingAndGlyphs">CA9-FL</text>
<text x="37.00" y="404.60" font-size="9.0" stroke="#a032c8" stroke-width="0.3" fill="#a032c8" textLength="30.6" lengthAdjust="spacingAndGlyphs">ECD-FL</text>
<text x="34.40" y="431.00" font-size="9.0" stroke="#ff2a2a" stroke-width="0.3" fill="#ff2a2a" textLength="36" lengthAdjust="spacingAndGlyphs">PG short</text>
<text x="46.40" y="454.40" font-size="9.0" stroke="#22c422" stroke-width="0.3" fill="#22c422" textLength="12.6" lengthAdjust="spacingAndGlyphs">CA</text>
<text x="36.00" y="476.00" font-size="9.0" stroke="#f5c2f2" stroke-width="0.3" fill="#f5c2f2" textLength="33" lengthAdjust="spacingAndGlyphs">PG long</text>
<text x="29.60" y="500.60" font-size="10.2" stroke="#f28a1e" stroke-width="0.3" fill="#f28a1e" textLength="45.4" lengthAdjust="spacingAndGlyphs">aa. 96-137</text>
<line x1="43.00" y1="386.20" x2="275.00" y2="386.20" stroke="#333" stroke-width="1.0" stroke-dasharray="2.6,1.8"/>
<rect x="103.00" y="370.40" width="6.00" height="3.20" fill="#3a3a3a"/>
<rect x="139.40" y="370.40" width="12.20" height="3.20" fill="#3a3a3a"/>
<rect x="228.00" y="370.40" width="39.00" height="3.20" fill="#3a3a3a"/>
<rect x="82.00" y="367.20" width="21.40" height="9.60" rx="4.2" fill="#6f6f6f" stroke="#444" stroke-width="0.8" stroke-dasharray="1.6,0.9"/>
<text x="92.70" y="375.10" font-size="8.6" stroke="#111" stroke-width="0.25" fill="#111" text-anchor="middle">SP</text>
<rect x="109.00" y="363.50" width="30.40" height="17.00" fill="#f8bcbc" stroke="#a89a9a" stroke-width="0.6" rx="2.6"/>
<text x="124.20" y="375.20" font-size="9.2" stroke="#222" stroke-width="0.3" fill="#222" text-anchor="middle" textLength="28.900000000000006" lengthAdjust="spacingAndGlyphs">PG-like</text>
<rect x="151.60" y="363.40" width="76.40" height="17.20" fill="#a9e4bf" stroke="#98aaa0" stroke-width="0.6" rx="3"/>
<text x="189.80" y="375.30" font-size="9.4" stroke="#222" stroke-width="0.3" fill="#222" text-anchor="middle">CA</text>
<rect x="239.00" y="364.20" width="14.20" height="16.80" fill="#0e3a2d" rx="2.6"/>
<text x="246.10" y="375.50" font-size="9.2" stroke="#e8e8e8" stroke-width="0.2" fill="#e8e8e8" text-anchor="middle">TM</text>
<line x1="141.60" y1="369.00" x2="141.60" y2="357.20" stroke="#9a9a9a" stroke-width="1.3"/>
<path d="M139.10,358.00 L141.60,354.20 L144.10,358.00 Z" fill="#9a9a9a"/>
<line x1="232.00" y1="368.00" x2="232.00" y2="356.80" stroke="#9a9a9a" stroke-width="1.3"/>
<path d="M229.50,357.60 L232.00,353.80 L234.50,357.60 Z" fill="#9a9a9a"/>
<text x="135.00" y="350.40" font-size="8.6" stroke="#222" stroke-width="0.18" fill="#222" textLength="21" lengthAdjust="spacingAndGlyphs">T115</text>
<text x="218.00" y="348.00" font-size="8.6" stroke="#222" stroke-width="0.18" fill="#222" textLength="37" lengthAdjust="spacingAndGlyphs">ADAM17</text>
<rect x="103.00" y="399.90" width="6.00" height="3.20" fill="#3a3a3a"/>
<rect x="139.40" y="399.90" width="12.20" height="3.20" fill="#3a3a3a"/>
<rect x="228.00" y="399.90" width="12.40" height="3.20" fill="#3a3a3a"/>
<rect x="82.00" y="396.70" width="21.40" height="9.60" rx="4.2" fill="#6f6f6f" stroke="#444" stroke-width="0.8" stroke-dasharray="1.6,0.9"/>
<text x="92.70" y="404.60" font-size="8.6" stroke="#111" stroke-width="0.25" fill="#111" text-anchor="middle">SP</text>
<rect x="109.00" y="393.00" width="30.40" height="17.00" fill="#f8bcbc" stroke="#a89a9a" stroke-width="0.6" rx="2.6"/>
<text x="124.20" y="404.70" font-size="9.2" stroke="#222" stroke-width="0.3" fill="#222" text-anchor="middle" textLength="28.900000000000006" lengthAdjust="spacingAndGlyphs">PG-like</text>
<rect x="151.60" y="392.90" width="76.40" height="17.20" fill="#a9e4bf" stroke="#98aaa0" stroke-width="0.6" rx="3"/>
<text x="189.80" y="404.80" font-size="9.4" stroke="#222" stroke-width="0.3" fill="#222" text-anchor="middle">CA</text>
<text x="245.60" y="404.60" font-size="9.2" stroke="#222" stroke-width="0.3" fill="#222" textLength="19" lengthAdjust="spacingAndGlyphs">+tag</text>
<rect x="103.00" y="424.90" width="6.00" height="3.20" fill="#3a3a3a"/>
<rect x="82.00" y="421.70" width="21.40" height="9.60" rx="4.2" fill="#6f6f6f" stroke="#444" stroke-width="0.8" stroke-dasharray="1.6,0.9"/>
<text x="92.70" y="429.60" font-size="8.6" stroke="#111" stroke-width="0.25" fill="#111" text-anchor="middle">SP</text>
<rect x="109.00" y="418.00" width="30.40" height="17.00" fill="#f8bcbc" stroke="#a89a9a" stroke-width="0.6" rx="2.6"/>
<text x="124.20" y="429.70" font-size="9.2" stroke="#222" stroke-width="0.3" fill="#222" text-anchor="middle" textLength="28.900000000000006" lengthAdjust="spacingAndGlyphs">PG-like</text>
<text x="146.00" y="429.40" font-size="9.2" stroke="#222" stroke-width="0.3" fill="#222" textLength="19" lengthAdjust="spacingAndGlyphs">+tag</text>
<rect x="140.00" y="448.40" width="11.60" height="3.20" fill="#3a3a3a"/>
<rect x="228.00" y="448.40" width="12.40" height="3.20" fill="#3a3a3a"/>
<rect x="119.00" y="445.20" width="21.40" height="9.60" rx="4.2" fill="#6f6f6f" stroke="#444" stroke-width="0.8" stroke-dasharray="1.6,0.9"/>
<text x="129.70" y="453.10" font-size="8.6" stroke="#111" stroke-width="0.25" fill="#111" text-anchor="middle">SP</text>
<rect x="151.60" y="441.40" width="76.40" height="17.20" fill="#a9e4bf" stroke="#98aaa0" stroke-width="0.6" rx="3"/>
<text x="189.80" y="453.30" font-size="9.4" stroke="#222" stroke-width="0.3" fill="#222" text-anchor="middle">CA</text>
<text x="245.60" y="453.20" font-size="9.2" stroke="#222" stroke-width="0.3" fill="#222" textLength="19" lengthAdjust="spacingAndGlyphs">+tag</text>
<rect x="103.00" y="471.20" width="6.00" height="3.20" fill="#3a3a3a"/>
<rect x="139.40" y="471.20" width="11.60" height="3.20" fill="#3a3a3a"/>
<rect x="82.00" y="468.00" width="21.40" height="9.60" rx="4.2" fill="#6f6f6f" stroke="#444" stroke-width="0.8" stroke-dasharray="1.6,0.9"/>
<text x="92.70" y="475.90" font-size="8.6" stroke="#111" stroke-width="0.25" fill="#111" text-anchor="middle">SP</text>
<rect x="109.00" y="464.30" width="30.40" height="17.00" fill="#f8bcbc" stroke="#a89a9a" stroke-width="0.6" rx="2.6"/>
<text x="124.20" y="476.00" font-size="9.2" stroke="#222" stroke-width="0.3" fill="#222" text-anchor="middle" textLength="28.900000000000006" lengthAdjust="spacingAndGlyphs">PG-like</text>
<text x="155.60" y="476.00" font-size="9.2" stroke="#222" stroke-width="0.3" fill="#222" textLength="19" lengthAdjust="spacingAndGlyphs">+tag</text>
<rect x="130.00" y="496.40" width="3.00" height="3.20" fill="#3a3a3a"/>
<rect x="138.60" y="496.40" width="12.20" height="3.20" fill="#3a3a3a"/>
<rect x="110.00" y="493.20" width="20.60" height="9.60" rx="4.2" fill="#6f6f6f" stroke="#444" stroke-width="0.8" stroke-dasharray="1.6,0.9"/>
<text x="120.30" y="501.10" font-size="8.6" stroke="#111" stroke-width="0.25" fill="#111" text-anchor="middle">SP</text>
<rect x="132.20" y="489.60" width="6.60" height="16.80" fill="#f8bcbc" stroke="#e0a0a0" stroke-width="0.4" rx="2.6"/>
<text x="155.00" y="501.20" font-size="9.2" stroke="#222" stroke-width="0.3" fill="#222" textLength="19" lengthAdjust="spacingAndGlyphs">+tag</text>
<path d="M132.2,503 V506 L92.3,525.4" fill="none" stroke="#222" stroke-width="1.0"/>
<path d="M151.4,502.4 V507.7 L339,524.6" fill="none" stroke="#222" stroke-width="1.0"/>
<text x="33.00" y="534.30" font-size="9.6" stroke="#222" stroke-width="0.3" fill="#222" textLength="31" lengthAdjust="spacingAndGlyphs">chicken</text>
<text x="94.4" y="534.3" font-size="8.0" font-family='"Liberation Mono", "Courier New", monospace' stroke-width="0.15" textLength="250" lengthAdjust="spacingAndGlyphs"><tspan fill="#c4c4c4" stroke="none">-</tspan><tspan fill="#c4c4c4" stroke="none">-</tspan><tspan fill="#c4c4c4" stroke="none">-</tspan><tspan fill="#c4c4c4" stroke="none">-</tspan><tspan fill="#c4c4c4" stroke="none">-</tspan><tspan fill="#c4c4c4" stroke="none">-</tspan><tspan fill="#f05a5a" stroke="#f05a5a">M</tspan><tspan fill="#26a04c" stroke="#26a04c">N</tspan><tspan fill="#f04cf0" stroke="#f04cf0">R</tspan><tspan fill="#26a04c" stroke="#26a04c">T</tspan><tspan fill="#f05a5a" stroke="#f05a5a">A</tspan><tspan fill="#f05a5a" stroke="#f05a5a">L</tspan><tspan fill="#f04cf0" stroke="#f04cf0">R</tspan><tspan fill="#f05a5a" stroke="#f05a5a">V</tspan><tspan fill="#26a04c" stroke="#26a04c">C</tspan><tspan fill="#f05a5a" stroke="#f05a5a">V</tspan><tspan fill="#f05a5a" stroke="#f05a5a">L</tspan><tspan fill="#f05a5a" stroke="#f05a5a">L</tspan><tspan fill="#f05a5a" stroke="#f05a5a">L</tspan><tspan fill="#c4c4c4" stroke="none">-</tspan><tspan fill="#f05a5a" stroke="#f05a5a">A</tspan><tspan fill="#26a04c" stroke="#26a04c">G</tspan><tspan fill="#f05a5a" stroke="#f05a5a">L</tspan><tspan fill="#26a04c" stroke="#26a04c">G</tspan><tspan fill="#f04cf0" stroke="#f04cf0">R</tspan><tspan fill="#f05a5a" stroke="#f05a5a">A</tspan><tspan fill="#f05a5a" stroke="#f05a5a">A</tspan><tspan fill="#26a04c" stroke="#26a04c">G</tspan><tspan fill="#26a04c" stroke="#26a04c">G</tspan><tspan fill="#26a04c" stroke="#26a04c">Q</tspan><tspan fill="#5f5ff0" stroke="#5f5ff0">E</tspan><tspan fill="#26a04c" stroke="#26a04c">H</tspan><tspan fill="#5f5ff0" stroke="#5f5ff0">D</tspan><tspan fill="#26a04c" stroke="#26a04c">H</tspan><tspan fill="#26a04c" stroke="#26a04c">N</tspan><tspan fill="#5f5ff0" stroke="#5f5ff0">D</tspan><tspan fill="#5f5ff0" stroke="#5f5ff0">E</tspan><tspan fill="#26a04c" stroke="#26a04c">N</tspan><tspan fill="#f05a5a" stroke="#f05a5a">A</tspan><tspan fill="#f05a5a" stroke="#f05a5a">P</tspan><tspan fill="#26a04c" stroke="#26a04c">H</tspan><tspan fill="#26a04c" stroke="#26a04c">S</tspan><tspan fill="#f05a5a" stroke="#f05a5a">A</tspan><tspan fill="#5f5ff0" stroke="#5f5ff0">E</tspan><tspan fill="#f04cf0" stroke="#f04cf0">K</tspan><tspan fill="#26a04c" stroke="#26a04c">G</tspan><tspan fill="#f05a5a" stroke="#f05a5a">P</tspan><tspan fill="#26a04c" stroke="#26a04c">S</tspan><tspan fill="#5f5ff0" stroke="#5f5ff0">D</tspan><tspan fill="#26a04c" stroke="#26a04c">S</tspan></text>
<text x="33.00" y="543.80" font-size="9.6" stroke="#222" stroke-width="0.3" fill="#222" textLength="19.4" lengthAdjust="spacingAndGlyphs">koala</text>
<text x="94.4" y="543.8" font-size="8.0" font-family='"Liberation Mono", "Courier New", monospace' stroke-width="0.15" textLength="250" lengthAdjust="spacingAndGlyphs"><tspan fill="#5f5ff0" stroke="#5f5ff0">E</tspan><tspan fill="#f05a5a" stroke="#f05a5a">V</tspan><tspan fill="#c4c4c4" stroke="none">-</tspan><tspan fill="#c4c4c4" stroke="none">-</tspan><tspan fill="#f05a5a" stroke="#f05a5a">P</tspan><tspan fill="#f05a5a" stroke="#f05a5a">P</tspan><tspan fill="#f04cf0" stroke="#f04cf0">R</tspan><tspan fill="#5f5ff0" stroke="#5f5ff0">E</tspan><tspan fill="#5f5ff0" stroke="#5f5ff0">E</tspan><tspan fill="#5f5ff0" stroke="#5f5ff0">D</tspan><tspan fill="#f05a5a" stroke="#f05a5a">P</tspan><tspan fill="#f05a5a" stroke="#f05a5a">P</tspan><tspan fill="#f04cf0" stroke="#f04cf0">R</tspan><tspan fill="#f04cf0" stroke="#f04cf0">K</tspan><tspan fill="#5f5ff0" stroke="#5f5ff0">E</tspan><tspan fill="#5f5ff0" stroke="#5f5ff0">D</tspan><tspan fill="#f05a5a" stroke="#f05a5a">P</tspan><tspan fill="#f05a5a" stroke="#f05a5a">P</tspan><tspan fill="#f05a5a" stroke="#f05a5a">V</tspan><tspan fill="#f05a5a" stroke="#f05a5a">V</tspan><tspan fill="#5f5ff0" stroke="#5f5ff0">E</tspan><tspan fill="#c4c4c4" stroke="none">-</tspan><tspan fill="#c4c4c4" stroke="none">-</tspan><tspan fill="#c4c4c4" stroke="none">-</tspan><tspan fill="#5f5ff0" stroke="#5f5ff0">D</tspan><tspan fill="#26a04c" stroke="#26a04c">N</tspan><tspan fill="#f05a5a" stroke="#f05a5a">L</tspan><tspan fill="#26a04c" stroke="#26a04c">G</tspan><tspan fill="#f05a5a" stroke="#f05a5a">P</tspan><tspan fill="#26a04c" stroke="#26a04c">H</tspan><tspan fill="#c4c4c4" stroke="none">-</tspan><tspan fill="#c4c4c4" stroke="none">-</tspan><tspan fill="#c4c4c4" stroke="none">-</tspan><tspan fill="#c4c4c4" stroke="none">-</tspan><tspan fill="#c4c4c4" stroke="none">-</tspan><tspan fill="#c4c4c4" stroke="none">-</tspan><tspan fill="#c4c4c4" stroke="none">-</tspan><tspan fill="#f04cf0" stroke="#f04cf0">K</tspan><tspan fill="#26a04c" stroke="#26a04c">N</tspan><tspan fill="#f05a5a" stroke="#f05a5a">I</tspan><tspan fill="#f05a5a" stroke="#f05a5a">P</tspan><tspan fill="#26a04c" stroke="#26a04c">G</tspan><tspan fill="#f04cf0" stroke="#f04cf0">K</tspan><tspan fill="#f04cf0" stroke="#f04cf0">K</tspan><tspan fill="#5f5ff0" stroke="#5f5ff0">D</tspan><tspan fill="#5f5ff0" stroke="#5f5ff0">D</tspan><tspan fill="#5f5ff0" stroke="#5f5ff0">D</tspan><tspan fill="#f04cf0" stroke="#f04cf0">R</tspan><tspan fill="#26a04c" stroke="#26a04c">Q</tspan><tspan fill="#c4c4c4" stroke="none">-</tspan></text>
<text x="33.00" y="553.10" font-size="9.6" stroke="#222" stroke-width="0.3" fill="#222" textLength="26.6" lengthAdjust="spacingAndGlyphs">human</text>
<text x="94.4" y="553.1" font-size="8.0" font-family='"Liberation Mono", "Courier New", monospace' stroke-width="0.15" textLength="250" lengthAdjust="spacingAndGlyphs"><tspan fill="#5f5ff0" stroke="#5f5ff0">E</tspan><tspan fill="#f05a5a" stroke="#f05a5a">V</tspan><tspan fill="#f04cf0" stroke="#f04cf0">K</tspan><tspan fill="#f05a5a" stroke="#f05a5a">P</tspan><tspan fill="#f04cf0" stroke="#f04cf0">K</tspan><tspan fill="#26a04c" stroke="#26a04c">S</tspan><tspan fill="#5f5ff0" stroke="#5f5ff0">E</tspan><tspan fill="#5f5ff0" stroke="#5f5ff0">E</tspan><tspan fill="#5f5ff0" stroke="#5f5ff0">E</tspan><tspan fill="#26a04c" stroke="#26a04c">G</tspan><tspan fill="#26a04c" stroke="#26a04c">S</tspan><tspan fill="#f05a5a" stroke="#f05a5a">L</tspan><tspan fill="#f04cf0" stroke="#f04cf0">K</tspan><tspan fill="#f05a5a" stroke="#f05a5a">L</tspan><tspan fill="#5f5ff0" stroke="#5f5ff0">E</tspan><tspan fill="#5f5ff0" stroke="#5f5ff0">D</tspan><tspan fill="#f05a5a" stroke="#f05a5a">L</tspan><tspan fill="#f05a5a" stroke="#f05a5a">P</tspan><tspan fill="#26a04c" stroke="#26a04c">T</tspan><tspan fill="#f05a5a" stroke="#f05a5a">V</tspan><tspan fill="#5f5ff0" stroke="#5f5ff0">E</tspan><tspan fill="#f05a5a" stroke="#f05a5a">A</tspan><tspan fill="#f05a5a" stroke="#f05a5a">P</tspan><tspan fill="#26a04c" stroke="#26a04c">G</tspan><tspan fill="#5f5ff0" stroke="#5f5ff0">D</tspan><tspan fill="#f05a5a" stroke="#f05a5a">P</tspan><tspan fill="#26a04c" stroke="#26a04c">Q</tspan><tspan fill="#5f5ff0" stroke="#5f5ff0">E</tspan><tspan fill="#f05a5a" stroke="#f05a5a">P</tspan><tspan fill="#26a04c" stroke="#26a04c">Q</tspan><tspan fill="#c4c4c4" stroke="none">-</tspan><tspan fill="#c4c4c4" stroke="none">-</tspan><tspan fill="#c4c4c4" stroke="none">-</tspan><tspan fill="#c4c4c4" stroke="none">-</tspan><tspan fill="#c4c4c4" stroke="none">-</tspan><tspan fill="#c4c4c4" stroke="none">-</tspan><tspan fill="#c4c4c4" stroke="none">-</tspan><tspan fill="#26a04c" stroke="#26a04c">N</tspan><tspan fill="#26a04c" stroke="#26a04c">N</tspan><tspan fill="#f05a5a" stroke="#f05a5a">A</tspan><tspan fill="#26a04c" stroke="#26a04c">H</tspan><tspan fill="#f04cf0" stroke="#f04cf0">R</tspan><tspan fill="#5f5ff0" stroke="#5f5ff0">D</tspan><tspan fill="#f04cf0" stroke="#f04cf0">K</tspan><tspan fill="#5f5ff0" stroke="#5f5ff0">E</tspan><tspan fill="#26a04c" stroke="#26a04c">G</tspan><tspan fill="#5f5ff0" stroke="#5f5ff0">D</tspan><tspan fill="#5f5ff0" stroke="#5f5ff0">D</tspan><tspan fill="#26a04c" stroke="#26a04c">Q</tspan><tspan fill="#26a04c" stroke="#26a04c">S</tspan></text>
<text x="33.00" y="562.60" font-size="9.6" stroke="#222" stroke-width="0.3" fill="#222" textLength="53.4" lengthAdjust="spacingAndGlyphs">beluga whale</text>
<text x="94.4" y="562.6" font-size="8.0" font-family='"Liberation Mono", "Courier New", monospace' stroke-width="0.15" textLength="250" lengthAdjust="spacingAndGlyphs"><tspan fill="#c4c4c4" stroke="none">-</tspan><tspan fill="#c4c4c4" stroke="none">-</tspan><tspan fill="#f04cf0" stroke="#f04cf0">K</tspan><tspan fill="#26a04c" stroke="#26a04c">T</tspan><tspan fill="#5f5ff0" stroke="#5f5ff0">E</tspan><tspan fill="#f05a5a" stroke="#f05a5a">A</tspan><tspan fill="#26a04c" stroke="#26a04c">G</tspan><tspan fill="#5f5ff0" stroke="#5f5ff0">E</tspan><tspan fill="#5f5ff0" stroke="#5f5ff0">E</tspan><tspan fill="#5f5ff0" stroke="#5f5ff0">D</tspan><tspan fill="#26a04c" stroke="#26a04c">S</tspan><tspan fill="#f05a5a" stroke="#f05a5a">L</tspan><tspan fill="#f04cf0" stroke="#f04cf0">K</tspan><tspan fill="#f05a5a" stroke="#f05a5a">I</tspan><tspan fill="#5f5ff0" stroke="#5f5ff0">E</tspan><tspan fill="#5f5ff0" stroke="#5f5ff0">D</tspan><tspan fill="#f05a5a" stroke="#f05a5a">L</tspan><tspan fill="#f05a5a" stroke="#f05a5a">P</tspan><tspan fill="#26a04c" stroke="#26a04c">T</tspan><tspan fill="#f05a5a" stroke="#f05a5a">V</tspan><tspan fill="#5f5ff0" stroke="#5f5ff0">E</tspan><tspan fill="#26a04c" stroke="#26a04c">T</tspan><tspan fill="#f05a5a" stroke="#f05a5a">P</tspan><tspan fill="#f04cf0" stroke="#f04cf0">R</tspan><tspan fill="#5f5ff0" stroke="#5f5ff0">D</tspan><tspan fill="#26a04c" stroke="#26a04c">T</tspan><tspan fill="#26a04c" stroke="#26a04c">Q</tspan><tspan fill="#26a04c" stroke="#26a04c">G</tspan><tspan fill="#f05a5a" stroke="#f05a5a">P</tspan><tspan fill="#26a04c" stroke="#26a04c">Q</tspan><tspan fill="#c4c4c4" stroke="none">-</tspan><tspan fill="#c4c4c4" stroke="none">-</tspan><tspan fill="#c4c4c4" stroke="none">-</tspan><tspan fill="#c4c4c4" stroke="none">-</tspan><tspan fill="#c4c4c4" stroke="none">-</tspan><tspan fill="#c4c4c4" stroke="none">-</tspan><tspan fill="#c4c4c4" stroke="none">-</tspan><tspan fill="#26a04c" stroke="#26a04c">N</tspan><tspan fill="#26a04c" stroke="#26a04c">N</tspan><tspan fill="#f05a5a" stroke="#f05a5a">A</tspan><tspan fill="#26a04c" stroke="#26a04c">H</tspan><tspan fill="#f04cf0" stroke="#f04cf0">R</tspan><tspan fill="#5f5ff0" stroke="#5f5ff0">D</tspan><tspan fill="#f04cf0" stroke="#f04cf0">K</tspan><tspan fill="#f04cf0" stroke="#f04cf0">K</tspan><tspan fill="#26a04c" stroke="#26a04c">G</tspan><tspan fill="#5f5ff0" stroke="#5f5ff0">D</tspan><tspan fill="#5f5ff0" stroke="#5f5ff0">D</tspan><tspan fill="#26a04c" stroke="#26a04c">H</tspan><tspan fill="#26a04c" stroke="#26a04c">S</tspan></text>
<text x="33.00" y="571.90" font-size="9.6" stroke="#222" stroke-width="0.3" fill="#222" textLength="26.6" lengthAdjust="spacingAndGlyphs">mouse</text>
<text x="94.4" y="571.9" font-size="8.0" font-family='"Liberation Mono", "Courier New", monospace' stroke-width="0.15" textLength="250" lengthAdjust="spacingAndGlyphs"><tspan fill="#5f5ff0" stroke="#5f5ff0">E</tspan><tspan fill="#f05a5a" stroke="#f05a5a">V</tspan><tspan fill="#26a04c" stroke="#26a04c">N</tspan><tspan fill="#26a04c" stroke="#26a04c">S</tspan><tspan fill="#5f5ff0" stroke="#5f5ff0">E</tspan><tspan fill="#5f5ff0" stroke="#5f5ff0">D</tspan><tspan fill="#f04cf0" stroke="#f04cf0">R</tspan><tspan fill="#f05a5a" stroke="#f05a5a">M</tspan><tspan fill="#5f5ff0" stroke="#5f5ff0">E</tspan><tspan fill="#5f5ff0" stroke="#5f5ff0">E</tspan><tspan fill="#26a04c" stroke="#26a04c">S</tspan><tspan fill="#f05a5a" stroke="#f05a5a">L</tspan><tspan fill="#26a04c" stroke="#26a04c">G</tspan><tspan fill="#f05a5a" stroke="#f05a5a">L</tspan><tspan fill="#5f5ff0" stroke="#5f5ff0">E</tspan><tspan fill="#5f5ff0" stroke="#5f5ff0">D</tspan><tspan fill="#f05a5a" stroke="#f05a5a">L</tspan><tspan fill="#26a04c" stroke="#26a04c">S</tspan><tspan fill="#26a04c" stroke="#26a04c">T</tspan><tspan fill="#f05a5a" stroke="#f05a5a">P</tspan><tspan fill="#5f5ff0" stroke="#5f5ff0">E</tspan><tspan fill="#f05a5a" stroke="#f05a5a">A</tspan><tspan fill="#f05a5a" stroke="#f05a5a">P</tspan><tspan fill="#5f5ff0" stroke="#5f5ff0">E</tspan><tspan fill="#26a04c" stroke="#26a04c">H</tspan><tspan fill="#26a04c" stroke="#26a04c">S</tspan><tspan fill="#26a04c" stroke="#26a04c">Q</tspan><tspan fill="#26a04c" stroke="#26a04c">G</tspan><tspan fill="#26a04c" stroke="#26a04c">S</tspan><tspan fill="#26a04c" stroke="#26a04c">H</tspan><tspan fill="#c4c4c4" stroke="none">-</tspan><tspan fill="#c4c4c4" stroke="none">-</tspan><tspan fill="#c4c4c4" stroke="none">-</tspan><tspan fill="#c4c4c4" stroke="none">-</tspan><tspan fill="#c4c4c4" stroke="none">-</tspan><tspan fill="#c4c4c4" stroke="none">-</tspan><tspan fill="#c4c4c4" stroke="none">-</tspan><tspan fill="#c4c4c4" stroke="none">-</tspan><tspan fill="#c4c4c4" stroke="none">-</tspan><tspan fill="#c4c4c4" stroke="none">-</tspan><tspan fill="#26a04c" stroke="#26a04c">G</tspan><tspan fill="#c4c4c4" stroke="none">-</tspan><tspan fill="#5f5ff0" stroke="#5f5ff0">D</tspan><tspan fill="#5f5ff0" stroke="#5f5ff0">E</tspan><tspan fill="#f04cf0" stroke="#f04cf0">K</tspan><tspan fill="#26a04c" stroke="#26a04c">G</tspan><tspan fill="#26a04c" stroke="#26a04c">G</tspan><tspan fill="#26a04c" stroke="#26a04c">G</tspan><tspan fill="#26a04c" stroke="#26a04c">H</tspan><tspan fill="#26a04c" stroke="#26a04c">S</tspan></text>
<circle cx="84.00" cy="577.20" r="0.9" fill="#f6a8a8"/>
<circle cx="89.40" cy="577.20" r="0.9" fill="#f6a8a8"/>
<circle cx="94.60" cy="577.20" r="0.9" fill="#f6a8a8"/>
<rect x="98.00" y="575.30" width="78.00" height="3.50" fill="#f8b4b4"/>
<text x="85.60" y="591.60" font-size="10.2" stroke="#222" stroke-width="0.3" fill="#222" textLength="69.4" lengthAdjust="spacingAndGlyphs">PG-like domain</text>
<line x1="187.00" y1="574.00" x2="187.00" y2="580.00" stroke="#9a9a9a" stroke-width="1.3"/>
<path d="M184.5,579.2 L187,583 L189.5,579.2 Z" fill="#9a9a9a"/>
<text x="177.00" y="591.20" font-size="8.8" stroke="#222" stroke-width="0.3" fill="#222" textLength="20" lengthAdjust="spacingAndGlyphs">T115</text>
<rect x="339.00" y="334.20" width="178.60" height="124.60" fill="#fdfdfd"/>
<defs><linearGradient id="lg1" x1="0" y1="334.2" x2="0" y2="458.8" gradientUnits="userSpaceOnUse"><stop offset="0.0000" stop-color="rgb(248,248,248)"/><stop offset="0.0746" stop-color="rgb(248,248,248)"/><stop offset="0.0907" stop-color="rgb(120,120,120)"/><stop offset="0.0987" stop-color="rgb(88,88,88)"/><stop offset="0.1308" stop-color="rgb(88,88,88)"/><stop offset="0.1388" stop-color="rgb(120,120,120)"/><stop offset="0.1549" stop-color="rgb(248,248,248)"/><stop offset="0.3339" stop-color="rgb(248,248,248)"/><stop offset="0.3499" stop-color="rgb(120,120,120)"/><stop offset="0.3579" stop-color="rgb(88,88,88)"/><stop offset="0.3900" stop-color="rgb(88,88,88)"/><stop offset="0.3981" stop-color="rgb(120,120,120)"/><stop offset="0.4141" stop-color="rgb(248,248,248)"/><stop offset="0.7809" stop-color="rgb(248,248,248)"/><stop offset="0.7970" stop-color="rgb(120,120,120)"/><stop offset="0.8050" stop-color="rgb(85,85,85)"/><stop offset="0.8571" stop-color="rgb(85,85,85)"/><stop offset="0.8668" stop-color="rgb(120,120,120)"/><stop offset="0.8852" stop-color="rgb(248,248,248)"/><stop offset="1.0000" stop-color="rgb(248,248,248)"/></linearGradient></defs>
<rect x="355.40" y="334.70" width="16.00" height="123.60" fill="url(#lg1)"/>
<defs><linearGradient id="lg2" x1="0" y1="334.2" x2="0" y2="458.8" gradientUnits="userSpaceOnUse"><stop offset="0.0000" stop-color="rgb(225,225,225)"/><stop offset="0.0465" stop-color="rgb(215,215,215)"/><stop offset="0.1268" stop-color="rgb(215,215,215)"/><stop offset="0.2071" stop-color="rgb(208,208,208)"/><stop offset="0.2713" stop-color="rgb(190,190,190)"/><stop offset="0.3114" stop-color="rgb(160,160,160)"/><stop offset="0.3435" stop-color="rgb(135,135,135)"/><stop offset="0.3676" stop-color="rgb(140,140,140)"/><stop offset="0.3997" stop-color="rgb(175,175,175)"/><stop offset="0.4478" stop-color="rgb(200,200,200)"/><stop offset="0.4960" stop-color="rgb(205,205,205)"/><stop offset="0.5441" stop-color="rgb(215,215,215)"/><stop offset="0.5843" stop-color="rgb(215,215,215)"/><stop offset="0.6164" stop-color="rgb(190,190,190)"/><stop offset="0.6364" stop-color="rgb(120,120,120)"/><stop offset="0.6565" stop-color="rgb(60,60,60)"/><stop offset="0.6846" stop-color="rgb(5,5,5)"/><stop offset="0.7769" stop-color="rgb(5,5,5)"/><stop offset="0.7849" stop-color="rgb(100,100,100)"/><stop offset="0.7970" stop-color="rgb(245,245,245)"/><stop offset="0.8291" stop-color="rgb(245,245,245)"/><stop offset="0.8379" stop-color="rgb(40,40,40)"/><stop offset="0.8451" stop-color="rgb(5,5,5)"/><stop offset="0.8892" stop-color="rgb(5,5,5)"/><stop offset="0.9053" stop-color="rgb(60,60,60)"/><stop offset="0.9374" stop-color="rgb(110,110,110)"/><stop offset="0.9575" stop-color="rgb(190,190,190)"/><stop offset="0.9775" stop-color="rgb(245,245,245)"/><stop offset="1.0000" stop-color="rgb(248,248,248)"/></linearGradient></defs>
<rect x="373.59" y="334.70" width="16.00" height="123.60" fill="url(#lg2)"/>
<defs><linearGradient id="lg3" x1="0" y1="334.2" x2="0" y2="458.8" gradientUnits="userSpaceOnUse"><stop offset="0.0000" stop-color="rgb(210,210,210)"/><stop offset="0.0225" stop-color="rgb(200,200,200)"/><stop offset="0.0425" stop-color="rgb(140,140,140)"/><stop offset="0.0546" stop-color="rgb(60,60,60)"/><stop offset="0.0706" stop-color="rgb(5,5,5)"/><stop offset="0.2030" stop-color="rgb(5,5,5)"/><stop offset="0.2151" stop-color="rgb(50,50,50)"/><stop offset="0.2472" stop-color="rgb(70,70,70)"/><stop offset="0.2729" stop-color="rgb(100,100,100)"/><stop offset="0.2873" stop-color="rgb(200,200,200)"/><stop offset="0.2994" stop-color="rgb(245,245,245)"/><stop offset="0.3676" stop-color="rgb(245,245,245)"/><stop offset="0.3997" stop-color="rgb(235,235,235)"/><stop offset="0.4318" stop-color="rgb(245,245,245)"/><stop offset="1.0000" stop-color="rgb(248,248,248)"/></linearGradient></defs>
<rect x="391.78" y="334.70" width="16.00" height="123.60" fill="url(#lg3)"/>
<defs><linearGradient id="lg4" x1="0" y1="334.2" x2="0" y2="458.8" gradientUnits="userSpaceOnUse"><stop offset="0.0000" stop-color="rgb(248,248,248)"/><stop offset="0.3676" stop-color="rgb(245,245,245)"/><stop offset="0.4318" stop-color="rgb(225,225,225)"/><stop offset="0.4848" stop-color="rgb(205,205,205)"/><stop offset="0.5281" stop-color="rgb(215,215,215)"/><stop offset="0.6083" stop-color="rgb(230,230,230)"/><stop offset="0.6565" stop-color="rgb(205,205,205)"/><stop offset="0.7030" stop-color="rgb(175,175,175)"/><stop offset="0.7448" stop-color="rgb(200,200,200)"/><stop offset="0.8010" stop-color="rgb(240,240,240)"/><stop offset="0.8892" stop-color="rgb(248,248,248)"/><stop offset="1.0000" stop-color="rgb(248,248,248)"/></linearGradient></defs>
<rect x="409.97" y="334.70" width="16.00" height="123.60" fill="url(#lg4)"/>
<defs><linearGradient id="lg5" x1="0" y1="334.2" x2="0" y2="458.8" gradientUnits="userSpaceOnUse"><stop offset="0.0000" stop-color="rgb(215,215,215)"/><stop offset="0.0144" stop-color="rgb(185,185,185)"/><stop offset="0.0345" stop-color="rgb(110,110,110)"/><stop offset="0.0506" stop-color="rgb(60,60,60)"/><stop offset="0.0947" stop-color="rgb(42,42,42)"/><stop offset="0.1348" stop-color="rgb(55,55,55)"/><stop offset="0.1509" stop-color="rgb(100,100,100)"/><stop offset="0.1629" stop-color="rgb(200,200,200)"/><stop offset="0.1750" stop-color="rgb(235,235,235)"/><stop offset="0.2472" stop-color="rgb(240,240,240)"/><stop offset="0.3676" stop-color="rgb(245,245,245)"/><stop offset="1.0000" stop-color="rgb(248,248,248)"/></linearGradient></defs>
<rect x="428.16" y="334.70" width="16.00" height="123.60" fill="url(#lg5)"/>
<defs><linearGradient id="lg6" x1="0" y1="334.2" x2="0" y2="458.8" gradientUnits="userSpaceOnUse"><stop offset="0.0000" stop-color="rgb(215,215,215)"/><stop offset="0.0465" stop-color="rgb(210,210,210)"/><stop offset="0.0787" stop-color="rgb(205,205,205)"/><stop offset="0.1027" stop-color="rgb(222,222,222)"/><stop offset="0.1268" stop-color="rgb(205,205,205)"/><stop offset="0.1509" stop-color="rgb(180,180,180)"/><stop offset="0.1669" stop-color="rgb(120,120,120)"/><stop offset="0.1830" stop-color="rgb(75,75,75)"/><stop offset="0.2472" stop-color="rgb(50,50,50)"/><stop offset="0.3034" stop-color="rgb(75,75,75)"/><stop offset="0.3210" stop-color="rgb(160,160,160)"/><stop offset="0.3355" stop-color="rgb(230,230,230)"/><stop offset="0.4077" stop-color="rgb(245,245,245)"/><stop offset="1.0000" stop-color="rgb(248,248,248)"/></linearGradient></defs>
<rect x="446.35" y="334.70" width="16.00" height="123.60" fill="url(#lg6)"/>
<defs><linearGradient id="lg7" x1="0" y1="334.2" x2="0" y2="458.8" gradientUnits="userSpaceOnUse"><stop offset="0.0000" stop-color="rgb(240,240,240)"/><stop offset="0.0867" stop-color="rgb(235,235,235)"/><stop offset="0.1669" stop-color="rgb(225,225,225)"/><stop offset="0.2472" stop-color="rgb(210,210,210)"/><stop offset="0.2793" stop-color="rgb(195,195,195)"/><stop offset="0.2953" stop-color="rgb(150,150,150)"/><stop offset="0.3074" stop-color="rgb(70,70,70)"/><stop offset="0.3355" stop-color="rgb(40,40,40)"/><stop offset="0.3756" stop-color="rgb(15,15,15)"/><stop offset="0.4238" stop-color="rgb(5,5,5)"/><stop offset="0.4599" stop-color="rgb(15,15,15)"/><stop offset="0.4880" stop-color="rgb(60,60,60)"/><stop offset="0.5201" stop-color="rgb(90,90,90)"/><stop offset="0.5361" stop-color="rgb(150,150,150)"/><stop offset="0.5522" stop-color="rgb(230,230,230)"/><stop offset="0.6083" stop-color="rgb(245,245,245)"/><stop offset="1.0000" stop-color="rgb(248,248,248)"/></linearGradient></defs>
<rect x="464.54" y="334.70" width="16.00" height="123.60" fill="url(#lg7)"/>
<defs><linearGradient id="lg8" x1="0" y1="334.2" x2="0" y2="458.8" gradientUnits="userSpaceOnUse"><stop offset="0.0000" stop-color="rgb(235,235,235)"/><stop offset="0.0465" stop-color="rgb(222,222,222)"/><stop offset="0.1108" stop-color="rgb(212,212,212)"/><stop offset="0.1429" stop-color="rgb(195,195,195)"/><stop offset="0.1629" stop-color="rgb(110,110,110)"/><stop offset="0.1830" stop-color="rgb(45,45,45)"/><stop offset="0.2071" stop-color="rgb(10,10,10)"/><stop offset="0.2472" stop-color="rgb(15,15,15)"/><stop offset="0.2793" stop-color="rgb(70,70,70)"/><stop offset="0.3034" stop-color="rgb(95,95,95)"/><stop offset="0.3274" stop-color="rgb(120,120,120)"/><stop offset="0.3435" stop-color="rgb(200,200,200)"/><stop offset="0.3596" stop-color="rgb(240,240,240)"/><stop offset="1.0000" stop-color="rgb(248,248,248)"/></linearGradient></defs>
<rect x="482.73" y="334.70" width="16.00" height="123.60" fill="url(#lg8)"/>
<defs><linearGradient id="lg9" x1="0" y1="334.2" x2="0" y2="458.8" gradientUnits="userSpaceOnUse"><stop offset="0.0000" stop-color="rgb(248,248,248)"/><stop offset="0.3676" stop-color="rgb(245,245,245)"/><stop offset="0.4077" stop-color="rgb(225,225,225)"/><stop offset="0.4438" stop-color="rgb(195,195,195)"/><stop offset="0.4799" stop-color="rgb(220,220,220)"/><stop offset="0.5281" stop-color="rgb(242,242,242)"/><stop offset="1.0000" stop-color="rgb(248,248,248)"/></linearGradient></defs>
<rect x="500.92" y="334.70" width="16.00" height="123.60" fill="url(#lg9)"/>
<rect x="339.00" y="334.20" width="178.60" height="124.60" fill="none" stroke="#111" stroke-width="1.4"/>
<text x="352.20" y="351.30" font-size="6.8" fill="#333" text-anchor="end">116</text>
<circle cx="353.40" cy="349.00" r="0.4" fill="#555"/>
<text x="352.20" y="382.90" font-size="6.8" fill="#333" text-anchor="end">66</text>
<circle cx="353.40" cy="380.60" r="0.4" fill="#555"/>
<text x="352.20" y="440.30" font-size="6.8" fill="#333" text-anchor="end">40</text>
<circle cx="353.40" cy="438.00" r="0.4" fill="#555"/>
<text x="362.50" y="328.50" font-size="10.6" stroke="#111" stroke-width="0.14" fill="#111" textLength="57.5" lengthAdjust="spacingAndGlyphs" transform="rotate(-45 362.50 328.50)">ladder (kD)</text>
<text x="383.00" y="328.50" font-size="10.6" stroke="#111" stroke-width="0.14" fill="#111" textLength="56.5" lengthAdjust="spacingAndGlyphs" transform="rotate(-45 383.00 328.50)">tag control</text>
<text x="402.50" y="328.50" font-size="10.6" fill="#9a2ed0" textLength="39" lengthAdjust="spacingAndGlyphs" transform="rotate(-45 402.50 328.50)">ECD-FL</text>
<text x="420.50" y="328.50" font-size="10.6" stroke="#111" stroke-width="0.14" fill="#111" textLength="55.3" lengthAdjust="spacingAndGlyphs" transform="rotate(-45 420.50 328.50)">tag control</text>
<text x="440.50" y="328.50" font-size="10.6" fill="#9a2ed0" textLength="38.4" lengthAdjust="spacingAndGlyphs" transform="rotate(-45 440.50 328.50)">ECD-FL</text>
<text x="458.50" y="328.50" font-size="10.6" fill="#ff2020" textLength="44.3" lengthAdjust="spacingAndGlyphs" transform="rotate(-45 458.50 328.50)">PG short</text>
<text x="474.00" y="329.00" font-size="10.6" fill="#1ec81e" textLength="16.8" lengthAdjust="spacingAndGlyphs" transform="rotate(-45 474.00 329.00)">CA</text>
<text x="492.00" y="328.50" font-size="10.6" fill="#f6c4f4" textLength="40.5" lengthAdjust="spacingAndGlyphs" transform="rotate(-45 492.00 328.50)">PG long</text>
<text x="509.50" y="328.50" font-size="10.6" fill="#f2881a" textLength="55.5" lengthAdjust="spacingAndGlyphs" transform="rotate(-45 509.50 328.50)">aa. 96-137</text>
<line x1="376.40" y1="462.00" x2="401.40" y2="462.00" stroke="#555" stroke-width="1.3"/>
<line x1="412.00" y1="461.80" x2="511.00" y2="461.80" stroke="#555" stroke-width="1.3"/>
<text x="373.20" y="472.40" font-size="8.4" stroke="#222" stroke-width="0.14" fill="#222" textLength="31.6" lengthAdjust="spacingAndGlyphs">Fc(dead)</text>
<text x="443.60" y="471.20" font-size="8.4" stroke="#222" stroke-width="0.14" fill="#222" textLength="31.4" lengthAdjust="spacingAndGlyphs">mutPlGF</text>
<line x1="393.00" y1="507.00" x2="393.00" y2="621.00" stroke="#777" stroke-width="0.9"/>
<line x1="393.00" y1="621.00" x2="503.00" y2="621.00" stroke="#777" stroke-width="0.9"/>
<line x1="390.00" y1="621.00" x2="393.00" y2="621.00" stroke="#777" stroke-width="0.8"/>
<line x1="391.40" y1="613.40" x2="393.00" y2="613.40" stroke="#777" stroke-width="0.8"/>
<line x1="391.40" y1="605.80" x2="393.00" y2="605.80" stroke="#777" stroke-width="0.8"/>
<line x1="391.40" y1="598.20" x2="393.00" y2="598.20" stroke="#777" stroke-width="0.8"/>
<line x1="391.40" y1="590.60" x2="393.00" y2="590.60" stroke="#777" stroke-width="0.8"/>
<line x1="390.00" y1="583.00" x2="393.00" y2="583.00" stroke="#777" stroke-width="0.8"/>
<line x1="391.40" y1="575.40" x2="393.00" y2="575.40" stroke="#777" stroke-width="0.8"/>
<line x1="391.40" y1="567.80" x2="393.00" y2="567.80" stroke="#777" stroke-width="0.8"/>
<line x1="391.40" y1="560.20" x2="393.00" y2="560.20" stroke="#777" stroke-width="0.8"/>
<line x1="391.40" y1="552.60" x2="393.00" y2="552.60" stroke="#777" stroke-width="0.8"/>
<line x1="390.00" y1="545.00" x2="393.00" y2="545.00" stroke="#777" stroke-width="0.8"/>
<line x1="391.40" y1="537.40" x2="393.00" y2="537.40" stroke="#777" stroke-width="0.8"/>
<line x1="391.40" y1="529.80" x2="393.00" y2="529.80" stroke="#777" stroke-width="0.8"/>
<line x1="391.40" y1="522.20" x2="393.00" y2="522.20" stroke="#777" stroke-width="0.8"/>
<line x1="391.40" y1="514.60" x2="393.00" y2="514.60" stroke="#777" stroke-width="0.8"/>
<line x1="390.00" y1="507.00" x2="393.00" y2="507.00" stroke="#777" stroke-width="0.8"/>
<text x="389.00" y="624.10" font-size="8.6" stroke="#222" stroke-width="0.14" fill="#222" text-anchor="end">0</text>
<text x="389.00" y="586.10" font-size="8.6" stroke="#222" stroke-width="0.14" fill="#222" text-anchor="end">5</text>
<text x="389.00" y="548.10" font-size="8.6" stroke="#222" stroke-width="0.14" fill="#222" text-anchor="end">10</text>
<text x="389.00" y="510.10" font-size="8.6" stroke="#222" stroke-width="0.14" fill="#222" text-anchor="end">15</text>
<line x1="422.60" y1="506.00" x2="422.60" y2="621.00" stroke="#888" stroke-width="0.8" stroke-dasharray="0.9,1.1"/>
<rect x="398.00" y="614.54" width="8.00" height="6.46" fill="#000" stroke="#000" stroke-width="0.5"/>
<line x1="402.00" y1="621.00" x2="402.00" y2="623.00" stroke="#777" stroke-width="0.8"/>
<rect x="410.60" y="562.48" width="8.00" height="58.52" fill="#7d0f8c" stroke="#333" stroke-width="0.5"/>
<line x1="414.60" y1="621.00" x2="414.60" y2="623.00" stroke="#777" stroke-width="0.8"/>
<rect x="427.40" y="614.54" width="8.00" height="6.46" fill="#000" stroke="#000" stroke-width="0.5"/>
<line x1="431.40" y1="621.00" x2="431.40" y2="623.00" stroke="#777" stroke-width="0.8"/>
<rect x="440.00" y="573.12" width="8.00" height="47.88" fill="#7d0f8c" stroke="#333" stroke-width="0.5"/>
<line x1="444.00" y1="621.00" x2="444.00" y2="623.00" stroke="#777" stroke-width="0.8"/>
<rect x="452.20" y="614.54" width="8.00" height="6.46" fill="#1ec31e" stroke="#333" stroke-width="0.5"/>
<line x1="456.20" y1="621.00" x2="456.20" y2="623.00" stroke="#777" stroke-width="0.8"/>
<rect x="465.00" y="614.54" width="8.00" height="6.46" fill="#ff1a1a" stroke="#333" stroke-width="0.5"/>
<line x1="469.00" y1="621.00" x2="469.00" y2="623.00" stroke="#777" stroke-width="0.8"/>
<rect x="477.60" y="576.16" width="8.00" height="44.84" fill="#f6c8f6" stroke="#333" stroke-width="0.5"/>
<line x1="481.60" y1="621.00" x2="481.60" y2="623.00" stroke="#777" stroke-width="0.8"/>
<rect x="490.20" y="518.40" width="8.00" height="102.60" fill="#ff8000" stroke="#333" stroke-width="0.5"/>
<line x1="494.20" y1="621.00" x2="494.20" y2="623.00" stroke="#777" stroke-width="0.8"/>
<circle cx="399.40" cy="614.16" r="1.6" fill="#000"/>
<circle cx="402.00" cy="614.16" r="1.6" fill="#000"/>
<circle cx="404.60" cy="614.16" r="1.6" fill="#000"/>
<circle cx="428.80" cy="614.16" r="1.6" fill="#000"/>
<circle cx="431.40" cy="614.16" r="1.6" fill="#000"/>
<circle cx="434.00" cy="614.16" r="1.6" fill="#000"/>
<circle cx="453.60" cy="613.40" r="1.6" fill="#000"/>
<circle cx="456.20" cy="613.02" r="1.6" fill="#000"/>
<circle cx="458.80" cy="613.40" r="1.6" fill="#000"/>
<circle cx="466.40" cy="613.40" r="1.6" fill="#000"/>
<circle cx="469.00" cy="613.02" r="1.6" fill="#000"/>
<circle cx="471.60" cy="613.40" r="1.6" fill="#000"/>
<line x1="414.60" y1="550.00" x2="414.60" y2="562.00" stroke="#444" stroke-width="0.75"/>
<line x1="412.40" y1="550.00" x2="416.80" y2="550.00" stroke="#444" stroke-width="0.75"/>
<line x1="412.40" y1="562.00" x2="416.80" y2="562.00" stroke="#444" stroke-width="0.75"/>
<circle cx="412.60" cy="553.60" r="2.0" fill="#000"/>
<circle cx="416.60" cy="556.60" r="2.0" fill="#000"/>
<circle cx="414.00" cy="575.60" r="2.0" fill="#000"/>
<line x1="444.00" y1="567.60" x2="444.00" y2="572.40" stroke="#444" stroke-width="0.75"/>
<line x1="441.80" y1="567.60" x2="446.20" y2="567.60" stroke="#444" stroke-width="0.75"/>
<line x1="441.80" y1="572.40" x2="446.20" y2="572.40" stroke="#444" stroke-width="0.75"/>
<circle cx="441.40" cy="569.00" r="2.0" fill="#000"/>
<circle cx="446.00" cy="570.40" r="2.0" fill="#000"/>
<circle cx="444.40" cy="577.40" r="2.0" fill="#000"/>
<line x1="481.60" y1="572.60" x2="481.60" y2="575.60" stroke="#444" stroke-width="0.75"/>
<line x1="479.40" y1="572.60" x2="483.80" y2="572.60" stroke="#444" stroke-width="0.75"/>
<line x1="479.40" y1="575.60" x2="483.80" y2="575.60" stroke="#444" stroke-width="0.75"/>
<circle cx="479.60" cy="572.40" r="2.0" fill="#000"/>
<circle cx="484.00" cy="575.60" r="2.0" fill="#000"/>
<circle cx="481.60" cy="580.00" r="2.0" fill="#000"/>
<line x1="494.20" y1="511.20" x2="494.20" y2="518.00" stroke="#444" stroke-width="0.75"/>
<line x1="492.00" y1="511.20" x2="496.40" y2="511.20" stroke="#444" stroke-width="0.75"/>
<line x1="492.00" y1="518.00" x2="496.40" y2="518.00" stroke="#444" stroke-width="0.75"/>
<circle cx="492.00" cy="513.00" r="2.0" fill="#000"/>
<circle cx="496.40" cy="513.00" r="2.0" fill="#000"/>
<circle cx="494.00" cy="526.00" r="2.0" fill="#000"/>
<path d="M431,606 V557.5 H444.00 V565" fill="none" stroke="#9a9a9a" stroke-width="0.8"/>
<path d="M431,547 V540.5 H456.20 V611" fill="none" stroke="#9a9a9a" stroke-width="0.8"/>
<path d="M431,534 V527.5 H469.00 V611" fill="none" stroke="#9a9a9a" stroke-width="0.8"/>
<path d="M431,520.7 V511.9 H481.60 V569" fill="none" stroke="#9a9a9a" stroke-width="0.8"/>
<path d="M431,505.7 V499.6 H494.20 V504" fill="none" stroke="#9a9a9a" stroke-width="0.8"/>
<text x="462.50" y="496.98" font-size="5.60" text-anchor="middle" font-family="DejaVu Sans" font-weight="bold" textLength="17.20" lengthAdjust="spacing" stroke="#000" stroke-width="0.3">****</text>
<text x="456.50" y="509.18" font-size="5.60" text-anchor="middle" font-family="DejaVu Sans" font-weight="bold" textLength="17.20" lengthAdjust="spacing" stroke="#000" stroke-width="0.3">****</text>
<text x="437.65" y="554.88" font-size="5.60" text-anchor="middle" font-family="DejaVu Sans" font-weight="bold" textLength="17.20" lengthAdjust="spacing" stroke="#000" stroke-width="0.3">****</text>
<text x="450.20" y="523.90" font-size="8" stroke="#222" stroke-width="0.14" fill="#222" text-anchor="middle">ns</text>
<text x="443.40" y="537.50" font-size="8" stroke="#222" stroke-width="0.14" fill="#222" text-anchor="middle">ns</text>
<text x="375.20" y="562.60" font-size="9.8" stroke="#111" stroke-width="0.14" fill="#111" text-anchor="middle" textLength="86.6" lengthAdjust="spacingAndGlyphs" transform="rotate(-90 375.20 562.60)">norm. MFI 2E3-AF488</text>
<text x="395.18" y="640.70" font-size="8.80" fill="#111" textLength="13.36" lengthAdjust="spacingAndGlyphs" transform="rotate(-45 395.18 640.70)">tag</text>
<text x="393.98" y="654.30" font-size="8.80" fill="#111" textLength="32.91" lengthAdjust="spacingAndGlyphs" transform="rotate(-45 393.98 654.30)">ECD-FL</text>
<text x="424.58" y="640.70" font-size="8.80" fill="#111" textLength="13.36" lengthAdjust="spacingAndGlyphs" transform="rotate(-45 424.58 640.70)">tag</text>
<text x="423.98" y="653.55" font-size="8.80" fill="#111" textLength="33.76" lengthAdjust="spacingAndGlyphs" transform="rotate(-45 423.98 653.55)">ECD-FL</text>
<text x="450.83" y="639.60" font-size="8.80" fill="#111" textLength="14.20" lengthAdjust="spacingAndGlyphs" transform="rotate(-45 450.83 639.60)">CA</text>
<text x="447.28" y="656.25" font-size="8.80" fill="#111" textLength="35.57" lengthAdjust="spacingAndGlyphs" transform="rotate(-45 447.28 656.25)">PG short</text>
<text x="461.73" y="654.20" font-size="8.80" fill="#111" textLength="32.08" lengthAdjust="spacingAndGlyphs" transform="rotate(-45 461.73 654.20)">PG long</text>
<text x="472.23" y="656.85" font-size="8.80" fill="#111" textLength="44.90" lengthAdjust="spacingAndGlyphs" transform="rotate(-45 472.23 656.85)">aa. 96-137</text>
<line x1="390.00" y1="659.00" x2="409.00" y2="659.00" stroke="#555" stroke-width="1.3"/>
<line x1="420.00" y1="659.00" x2="487.00" y2="659.00" stroke="#555" stroke-width="1.3"/>
<text x="384.00" y="668.00" font-size="8.6" stroke="#222" stroke-width="0.14" fill="#222" textLength="30" lengthAdjust="spacingAndGlyphs">Fc(dead)</text>
<text x="439.00" y="668.00" font-size="8.6" stroke="#222" stroke-width="0.14" fill="#222" textLength="29.5" lengthAdjust="spacingAndGlyphs">mutPlGF</text>
</svg></body></html>
